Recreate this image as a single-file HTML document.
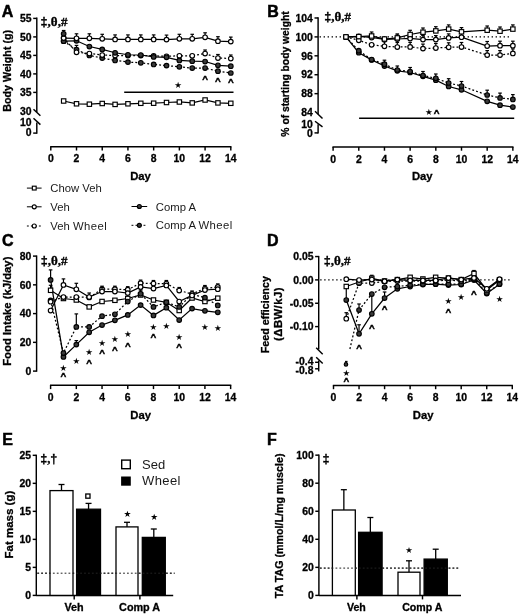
<!DOCTYPE html>
<html><head><meta charset="utf-8"><title>Figure</title>
<style>html,body{margin:0;padding:0;background:#fff;} svg{display:block;}</style></head>
<body><svg width="520" height="615" viewBox="0 0 520 615">
<rect x="0" y="0" width="520" height="615" fill="#fff"/>
<text x="1.80" y="16.95" font-family="'Liberation Sans', Arial, sans-serif" font-size="16" font-weight="bold" text-anchor="start" fill="#000" stroke="#000" stroke-width="0.5">A</text>
<text x="267.20" y="16.85" font-family="'Liberation Sans', Arial, sans-serif" font-size="16" font-weight="bold" text-anchor="start" fill="#000" stroke="#000" stroke-width="0.5">B</text>
<text x="1.90" y="246.15" font-family="'Liberation Sans', Arial, sans-serif" font-size="16" font-weight="bold" text-anchor="start" fill="#000" stroke="#000" stroke-width="0.5">C</text>
<text x="267.10" y="245.90" font-family="'Liberation Sans', Arial, sans-serif" font-size="16" font-weight="bold" text-anchor="start" fill="#000" stroke="#000" stroke-width="0.5">D</text>
<text x="2.30" y="444.70" font-family="'Liberation Sans', Arial, sans-serif" font-size="16" font-weight="bold" text-anchor="start" fill="#000" stroke="#000" stroke-width="0.5">E</text>
<text x="267.10" y="444.60" font-family="'Liberation Sans', Arial, sans-serif" font-size="16" font-weight="bold" text-anchor="start" fill="#000" stroke="#000" stroke-width="0.5">F</text>
<line x1="36.80" y1="17.45" x2="36.80" y2="112.00" stroke="#000" stroke-width="1.45"/>
<line x1="33.20" y1="18.40" x2="36.80" y2="18.40" stroke="#000" stroke-width="1.45"/>
<line x1="33.20" y1="36.90" x2="36.80" y2="36.90" stroke="#000" stroke-width="1.45"/>
<line x1="33.20" y1="55.40" x2="36.80" y2="55.40" stroke="#000" stroke-width="1.45"/>
<line x1="33.20" y1="73.90" x2="36.80" y2="73.90" stroke="#000" stroke-width="1.45"/>
<line x1="33.20" y1="92.40" x2="36.80" y2="92.40" stroke="#000" stroke-width="1.45"/>
<text x="31.60" y="22.14" font-family="'Liberation Sans', Arial, sans-serif" font-size="10.4" font-weight="bold" text-anchor="end" fill="#000" stroke="#000" stroke-width="0.3">55</text>
<text x="31.60" y="40.64" font-family="'Liberation Sans', Arial, sans-serif" font-size="10.4" font-weight="bold" text-anchor="end" fill="#000" stroke="#000" stroke-width="0.3">50</text>
<text x="31.60" y="59.14" font-family="'Liberation Sans', Arial, sans-serif" font-size="10.4" font-weight="bold" text-anchor="end" fill="#000" stroke="#000" stroke-width="0.3">45</text>
<text x="31.60" y="77.64" font-family="'Liberation Sans', Arial, sans-serif" font-size="10.4" font-weight="bold" text-anchor="end" fill="#000" stroke="#000" stroke-width="0.3">40</text>
<text x="31.60" y="96.14" font-family="'Liberation Sans', Arial, sans-serif" font-size="10.4" font-weight="bold" text-anchor="end" fill="#000" stroke="#000" stroke-width="0.3">35</text>
<text x="31.60" y="114.64" font-family="'Liberation Sans', Arial, sans-serif" font-size="10.4" font-weight="bold" text-anchor="end" fill="#000" stroke="#000" stroke-width="0.3">30</text>
<line x1="33.50" y1="109.20" x2="40.40" y2="115.80" stroke="#000" stroke-width="1.45"/>
<line x1="33.50" y1="118.30" x2="40.40" y2="124.60" stroke="#000" stroke-width="1.45"/>
<line x1="36.80" y1="122.50" x2="36.80" y2="133.75" stroke="#000" stroke-width="1.45"/>
<line x1="33.20" y1="133.10" x2="36.80" y2="133.10" stroke="#000" stroke-width="1.45"/>
<text x="31.60" y="125.64" font-family="'Liberation Sans', Arial, sans-serif" font-size="10.4" font-weight="bold" text-anchor="end" fill="#000" stroke="#000" stroke-width="0.3">10</text>
<text x="31.60" y="136.34" font-family="'Liberation Sans', Arial, sans-serif" font-size="10.4" font-weight="bold" text-anchor="end" fill="#000" stroke="#000" stroke-width="0.3">0</text>
<text transform="translate(6.80,70.80) rotate(-90)" x="0" y="3.85" font-family="'Liberation Sans', Arial, sans-serif" font-size="10.7" font-weight="bold" text-anchor="middle" stroke="#000" stroke-width="0.3">Body Weight (g)</text>
<line x1="50.15" y1="146.70" x2="231.45" y2="146.70" stroke="#000" stroke-width="1.45"/>
<line x1="50.80" y1="146.70" x2="50.80" y2="150.50" stroke="#000" stroke-width="1.45"/>
<line x1="76.51" y1="146.70" x2="76.51" y2="150.50" stroke="#000" stroke-width="1.45"/>
<line x1="102.23" y1="146.70" x2="102.23" y2="150.50" stroke="#000" stroke-width="1.45"/>
<line x1="127.94" y1="146.70" x2="127.94" y2="150.50" stroke="#000" stroke-width="1.45"/>
<line x1="153.66" y1="146.70" x2="153.66" y2="150.50" stroke="#000" stroke-width="1.45"/>
<line x1="179.37" y1="146.70" x2="179.37" y2="150.50" stroke="#000" stroke-width="1.45"/>
<line x1="205.08" y1="146.70" x2="205.08" y2="150.50" stroke="#000" stroke-width="1.45"/>
<line x1="230.80" y1="146.70" x2="230.80" y2="150.50" stroke="#000" stroke-width="1.45"/>
<text x="50.80" y="162.44" font-family="'Liberation Sans', Arial, sans-serif" font-size="10.4" font-weight="bold" text-anchor="middle" fill="#000" stroke="#000" stroke-width="0.3">0</text>
<text x="76.51" y="162.44" font-family="'Liberation Sans', Arial, sans-serif" font-size="10.4" font-weight="bold" text-anchor="middle" fill="#000" stroke="#000" stroke-width="0.3">2</text>
<text x="102.23" y="162.44" font-family="'Liberation Sans', Arial, sans-serif" font-size="10.4" font-weight="bold" text-anchor="middle" fill="#000" stroke="#000" stroke-width="0.3">4</text>
<text x="127.94" y="162.44" font-family="'Liberation Sans', Arial, sans-serif" font-size="10.4" font-weight="bold" text-anchor="middle" fill="#000" stroke="#000" stroke-width="0.3">6</text>
<text x="153.66" y="162.44" font-family="'Liberation Sans', Arial, sans-serif" font-size="10.4" font-weight="bold" text-anchor="middle" fill="#000" stroke="#000" stroke-width="0.3">8</text>
<text x="179.37" y="162.44" font-family="'Liberation Sans', Arial, sans-serif" font-size="10.4" font-weight="bold" text-anchor="middle" fill="#000" stroke="#000" stroke-width="0.3">10</text>
<text x="205.08" y="162.44" font-family="'Liberation Sans', Arial, sans-serif" font-size="10.4" font-weight="bold" text-anchor="middle" fill="#000" stroke="#000" stroke-width="0.3">12</text>
<text x="230.80" y="162.44" font-family="'Liberation Sans', Arial, sans-serif" font-size="10.4" font-weight="bold" text-anchor="middle" fill="#000" stroke="#000" stroke-width="0.3">14</text>
<text x="140.50" y="180.20" font-family="'Liberation Sans', Arial, sans-serif" font-size="11.3" font-weight="bold" text-anchor="middle" fill="#000" stroke="#000" stroke-width="0.3">Day</text>
<text x="40.6" y="26.3" font-family="'Liberation Serif', 'Times New Roman', serif" font-size="13" font-weight="bold" stroke="#000" stroke-width="0.35"><tspan font-family="'Liberation Sans', Arial, sans-serif" font-size="12.6">&#8225;</tspan>,&#952;,#</text>
<polyline points="63.66,101.00 76.51,103.80 89.37,104.20 102.23,103.50 115.08,104.40 127.94,103.80 140.80,103.30 153.66,103.20 166.51,102.50 179.37,102.00 192.23,102.90 205.08,100.00 217.94,102.90 230.80,103.30" fill="none" stroke="#000" stroke-width="1.25"/>
<polyline points="63.66,38.10 76.51,38.30 89.37,38.30 102.23,38.80 115.08,39.40 127.94,39.40 140.80,39.40 153.66,39.40 166.51,39.60 179.37,38.80 192.23,38.80 205.08,37.30 217.94,41.20 230.80,41.60" fill="none" stroke="#000" stroke-width="1.25"/>
<polyline points="63.66,41.20 76.51,40.80 89.37,46.50 102.23,49.40 115.08,52.75 127.94,54.75 140.80,55.00 153.66,56.90 166.51,57.30 179.37,60.40 192.23,61.20 205.08,61.50 217.94,65.30 230.80,66.20" fill="none" stroke="#000" stroke-width="1.25"/>
<polyline points="63.66,38.10 76.51,52.30 89.37,53.50 102.23,55.00 115.08,55.60 127.94,55.50 140.80,55.50 153.66,55.80 166.51,56.30 179.37,55.80 192.23,55.80 205.08,53.50 217.94,58.00 230.80,58.50" fill="none" stroke="#000" stroke-width="1.25" stroke-dasharray="1.9 2.1"/>
<polyline points="63.66,41.20 76.51,49.60 89.37,55.40 102.23,58.10 115.08,60.40 127.94,62.10 140.80,62.75 153.66,64.40 166.51,65.60 179.37,66.80 192.23,68.10 205.08,68.10 217.94,71.20 230.80,73.00" fill="none" stroke="#000" stroke-width="1.25" stroke-dasharray="1.9 2.1"/>
<rect x="61.47" y="98.81" width="4.37" height="4.37" fill="#fff" stroke="#000" stroke-width="1.15"/>
<rect x="74.33" y="101.61" width="4.37" height="4.37" fill="#fff" stroke="#000" stroke-width="1.15"/>
<rect x="87.19" y="102.02" width="4.37" height="4.37" fill="#fff" stroke="#000" stroke-width="1.15"/>
<rect x="100.04" y="101.31" width="4.37" height="4.37" fill="#fff" stroke="#000" stroke-width="1.15"/>
<rect x="112.90" y="102.22" width="4.37" height="4.37" fill="#fff" stroke="#000" stroke-width="1.15"/>
<rect x="125.76" y="101.61" width="4.37" height="4.37" fill="#fff" stroke="#000" stroke-width="1.15"/>
<rect x="138.61" y="101.11" width="4.37" height="4.37" fill="#fff" stroke="#000" stroke-width="1.15"/>
<rect x="151.47" y="101.02" width="4.37" height="4.37" fill="#fff" stroke="#000" stroke-width="1.15"/>
<rect x="164.33" y="100.31" width="4.37" height="4.37" fill="#fff" stroke="#000" stroke-width="1.15"/>
<rect x="177.19" y="99.81" width="4.37" height="4.37" fill="#fff" stroke="#000" stroke-width="1.15"/>
<rect x="190.04" y="100.72" width="4.37" height="4.37" fill="#fff" stroke="#000" stroke-width="1.15"/>
<rect x="202.90" y="97.81" width="4.37" height="4.37" fill="#fff" stroke="#000" stroke-width="1.15"/>
<rect x="215.76" y="100.72" width="4.37" height="4.37" fill="#fff" stroke="#000" stroke-width="1.15"/>
<rect x="228.61" y="101.11" width="4.37" height="4.37" fill="#fff" stroke="#000" stroke-width="1.15"/>
<circle cx="63.66" cy="41.20" r="2.3" fill="#3a3a3a" stroke="#000" stroke-width="1.15"/>
<line x1="76.51" y1="49.60" x2="76.51" y2="45.40" stroke="#000" stroke-width="1.2"/>
<line x1="74.71" y1="45.40" x2="78.31" y2="45.40" stroke="#000" stroke-width="1.2"/>
<circle cx="76.51" cy="49.60" r="2.3" fill="#3a3a3a" stroke="#000" stroke-width="1.15"/>
<circle cx="89.37" cy="55.40" r="2.3" fill="#3a3a3a" stroke="#000" stroke-width="1.15"/>
<circle cx="102.23" cy="58.10" r="2.3" fill="#3a3a3a" stroke="#000" stroke-width="1.15"/>
<circle cx="115.08" cy="60.40" r="2.3" fill="#3a3a3a" stroke="#000" stroke-width="1.15"/>
<circle cx="127.94" cy="62.10" r="2.3" fill="#3a3a3a" stroke="#000" stroke-width="1.15"/>
<circle cx="140.80" cy="62.75" r="2.3" fill="#3a3a3a" stroke="#000" stroke-width="1.15"/>
<circle cx="153.66" cy="64.40" r="2.3" fill="#3a3a3a" stroke="#000" stroke-width="1.15"/>
<circle cx="166.51" cy="65.60" r="2.3" fill="#3a3a3a" stroke="#000" stroke-width="1.15"/>
<circle cx="179.37" cy="66.80" r="2.3" fill="#3a3a3a" stroke="#000" stroke-width="1.15"/>
<circle cx="192.23" cy="68.10" r="2.3" fill="#3a3a3a" stroke="#000" stroke-width="1.15"/>
<circle cx="205.08" cy="68.10" r="2.3" fill="#3a3a3a" stroke="#000" stroke-width="1.15"/>
<circle cx="217.94" cy="71.20" r="2.3" fill="#3a3a3a" stroke="#000" stroke-width="1.15"/>
<circle cx="230.80" cy="73.00" r="2.3" fill="#3a3a3a" stroke="#000" stroke-width="1.15"/>
<circle cx="63.66" cy="38.10" r="2.3" fill="#fff" stroke="#000" stroke-width="1.15"/>
<circle cx="76.51" cy="52.30" r="2.3" fill="#fff" stroke="#000" stroke-width="1.15"/>
<circle cx="89.37" cy="53.50" r="2.3" fill="#fff" stroke="#000" stroke-width="1.15"/>
<circle cx="102.23" cy="55.00" r="2.3" fill="#fff" stroke="#000" stroke-width="1.15"/>
<circle cx="115.08" cy="55.60" r="2.3" fill="#fff" stroke="#000" stroke-width="1.15"/>
<circle cx="127.94" cy="55.50" r="2.3" fill="#fff" stroke="#000" stroke-width="1.15"/>
<circle cx="140.80" cy="55.50" r="2.3" fill="#fff" stroke="#000" stroke-width="1.15"/>
<circle cx="153.66" cy="55.80" r="2.3" fill="#fff" stroke="#000" stroke-width="1.15"/>
<circle cx="166.51" cy="56.30" r="2.3" fill="#fff" stroke="#000" stroke-width="1.15"/>
<circle cx="179.37" cy="55.80" r="2.3" fill="#fff" stroke="#000" stroke-width="1.15"/>
<circle cx="192.23" cy="55.80" r="2.3" fill="#fff" stroke="#000" stroke-width="1.15"/>
<line x1="205.08" y1="53.50" x2="205.08" y2="50.00" stroke="#000" stroke-width="1.2"/>
<line x1="203.28" y1="50.00" x2="206.88" y2="50.00" stroke="#000" stroke-width="1.2"/>
<circle cx="205.08" cy="53.50" r="2.3" fill="#fff" stroke="#000" stroke-width="1.15"/>
<line x1="217.94" y1="58.00" x2="217.94" y2="54.50" stroke="#000" stroke-width="1.2"/>
<line x1="216.14" y1="54.50" x2="219.74" y2="54.50" stroke="#000" stroke-width="1.2"/>
<circle cx="217.94" cy="58.00" r="2.3" fill="#fff" stroke="#000" stroke-width="1.15"/>
<line x1="230.80" y1="58.50" x2="230.80" y2="55.00" stroke="#000" stroke-width="1.2"/>
<line x1="229.00" y1="55.00" x2="232.60" y2="55.00" stroke="#000" stroke-width="1.2"/>
<circle cx="230.80" cy="58.50" r="2.3" fill="#fff" stroke="#000" stroke-width="1.15"/>
<circle cx="63.66" cy="41.20" r="2.3" fill="#3a3a3a" stroke="#000" stroke-width="1.15"/>
<circle cx="76.51" cy="40.80" r="2.3" fill="#3a3a3a" stroke="#000" stroke-width="1.15"/>
<circle cx="89.37" cy="46.50" r="2.3" fill="#3a3a3a" stroke="#000" stroke-width="1.15"/>
<circle cx="102.23" cy="49.40" r="2.3" fill="#3a3a3a" stroke="#000" stroke-width="1.15"/>
<circle cx="115.08" cy="52.75" r="2.3" fill="#3a3a3a" stroke="#000" stroke-width="1.15"/>
<circle cx="127.94" cy="54.75" r="2.3" fill="#3a3a3a" stroke="#000" stroke-width="1.15"/>
<circle cx="140.80" cy="55.00" r="2.3" fill="#3a3a3a" stroke="#000" stroke-width="1.15"/>
<circle cx="153.66" cy="56.90" r="2.3" fill="#3a3a3a" stroke="#000" stroke-width="1.15"/>
<circle cx="166.51" cy="57.30" r="2.3" fill="#3a3a3a" stroke="#000" stroke-width="1.15"/>
<circle cx="179.37" cy="60.40" r="2.3" fill="#3a3a3a" stroke="#000" stroke-width="1.15"/>
<circle cx="192.23" cy="61.20" r="2.3" fill="#3a3a3a" stroke="#000" stroke-width="1.15"/>
<circle cx="205.08" cy="61.50" r="2.3" fill="#3a3a3a" stroke="#000" stroke-width="1.15"/>
<circle cx="217.94" cy="65.30" r="2.3" fill="#3a3a3a" stroke="#000" stroke-width="1.15"/>
<circle cx="230.80" cy="66.20" r="2.3" fill="#3a3a3a" stroke="#000" stroke-width="1.15"/>
<line x1="63.66" y1="38.10" x2="63.66" y2="33.60" stroke="#000" stroke-width="1.2"/>
<line x1="61.86" y1="33.60" x2="65.46" y2="33.60" stroke="#000" stroke-width="1.2"/>
<circle cx="63.66" cy="38.10" r="2.3" fill="#fff" stroke="#000" stroke-width="1.15"/>
<line x1="76.51" y1="38.30" x2="76.51" y2="33.80" stroke="#000" stroke-width="1.2"/>
<line x1="74.71" y1="33.80" x2="78.31" y2="33.80" stroke="#000" stroke-width="1.2"/>
<circle cx="76.51" cy="38.30" r="2.3" fill="#fff" stroke="#000" stroke-width="1.15"/>
<line x1="89.37" y1="38.30" x2="89.37" y2="33.80" stroke="#000" stroke-width="1.2"/>
<line x1="87.57" y1="33.80" x2="91.17" y2="33.80" stroke="#000" stroke-width="1.2"/>
<circle cx="89.37" cy="38.30" r="2.3" fill="#fff" stroke="#000" stroke-width="1.15"/>
<line x1="102.23" y1="38.80" x2="102.23" y2="34.30" stroke="#000" stroke-width="1.2"/>
<line x1="100.43" y1="34.30" x2="104.03" y2="34.30" stroke="#000" stroke-width="1.2"/>
<circle cx="102.23" cy="38.80" r="2.3" fill="#fff" stroke="#000" stroke-width="1.15"/>
<line x1="115.08" y1="39.40" x2="115.08" y2="34.90" stroke="#000" stroke-width="1.2"/>
<line x1="113.28" y1="34.90" x2="116.88" y2="34.90" stroke="#000" stroke-width="1.2"/>
<circle cx="115.08" cy="39.40" r="2.3" fill="#fff" stroke="#000" stroke-width="1.15"/>
<line x1="127.94" y1="39.40" x2="127.94" y2="34.90" stroke="#000" stroke-width="1.2"/>
<line x1="126.14" y1="34.90" x2="129.74" y2="34.90" stroke="#000" stroke-width="1.2"/>
<circle cx="127.94" cy="39.40" r="2.3" fill="#fff" stroke="#000" stroke-width="1.15"/>
<line x1="140.80" y1="39.40" x2="140.80" y2="34.90" stroke="#000" stroke-width="1.2"/>
<line x1="139.00" y1="34.90" x2="142.60" y2="34.90" stroke="#000" stroke-width="1.2"/>
<circle cx="140.80" cy="39.40" r="2.3" fill="#fff" stroke="#000" stroke-width="1.15"/>
<line x1="153.66" y1="39.40" x2="153.66" y2="34.90" stroke="#000" stroke-width="1.2"/>
<line x1="151.86" y1="34.90" x2="155.46" y2="34.90" stroke="#000" stroke-width="1.2"/>
<circle cx="153.66" cy="39.40" r="2.3" fill="#fff" stroke="#000" stroke-width="1.15"/>
<line x1="166.51" y1="39.60" x2="166.51" y2="35.10" stroke="#000" stroke-width="1.2"/>
<line x1="164.71" y1="35.10" x2="168.31" y2="35.10" stroke="#000" stroke-width="1.2"/>
<circle cx="166.51" cy="39.60" r="2.3" fill="#fff" stroke="#000" stroke-width="1.15"/>
<line x1="179.37" y1="38.80" x2="179.37" y2="34.30" stroke="#000" stroke-width="1.2"/>
<line x1="177.57" y1="34.30" x2="181.17" y2="34.30" stroke="#000" stroke-width="1.2"/>
<circle cx="179.37" cy="38.80" r="2.3" fill="#fff" stroke="#000" stroke-width="1.15"/>
<line x1="192.23" y1="38.80" x2="192.23" y2="34.30" stroke="#000" stroke-width="1.2"/>
<line x1="190.43" y1="34.30" x2="194.03" y2="34.30" stroke="#000" stroke-width="1.2"/>
<circle cx="192.23" cy="38.80" r="2.3" fill="#fff" stroke="#000" stroke-width="1.15"/>
<line x1="205.08" y1="37.30" x2="205.08" y2="32.80" stroke="#000" stroke-width="1.2"/>
<line x1="203.28" y1="32.80" x2="206.88" y2="32.80" stroke="#000" stroke-width="1.2"/>
<circle cx="205.08" cy="37.30" r="2.3" fill="#fff" stroke="#000" stroke-width="1.15"/>
<line x1="217.94" y1="41.20" x2="217.94" y2="36.70" stroke="#000" stroke-width="1.2"/>
<line x1="216.14" y1="36.70" x2="219.74" y2="36.70" stroke="#000" stroke-width="1.2"/>
<circle cx="217.94" cy="41.20" r="2.3" fill="#fff" stroke="#000" stroke-width="1.15"/>
<line x1="230.80" y1="41.60" x2="230.80" y2="37.10" stroke="#000" stroke-width="1.2"/>
<line x1="229.00" y1="37.10" x2="232.60" y2="37.10" stroke="#000" stroke-width="1.2"/>
<circle cx="230.80" cy="41.60" r="2.3" fill="#fff" stroke="#000" stroke-width="1.15"/>
<line x1="63.66" y1="33.80" x2="63.66" y2="30.50" stroke="#000" stroke-width="1.2"/>
<line x1="61.86" y1="30.50" x2="65.46" y2="30.50" stroke="#000" stroke-width="1.2"/>
<circle cx="63.66" cy="33.80" r="2.3" fill="#3a3a3a" stroke="#000" stroke-width="1.15"/>
<line x1="124.20" y1="92.20" x2="233.50" y2="92.20" stroke="#000" stroke-width="1.4"/>
<text x="178.20" y="88.32" font-family="DejaVu Sans, sans-serif" font-size="8.6" text-anchor="middle">&#9733;</text>
<text x="205.08" y="81.95" font-family="'Liberation Sans', Arial, sans-serif" font-size="9.8" font-weight="bold" text-anchor="middle" stroke="#000" stroke-width="0.45">^</text>
<text x="217.94" y="84.16" font-family="'Liberation Sans', Arial, sans-serif" font-size="9.8" font-weight="bold" text-anchor="middle" stroke="#000" stroke-width="0.45">^</text>
<text x="230.80" y="84.66" font-family="'Liberation Sans', Arial, sans-serif" font-size="9.8" font-weight="bold" text-anchor="middle" stroke="#000" stroke-width="0.45">^</text>
<line x1="318.10" y1="17.33" x2="318.10" y2="114.20" stroke="#000" stroke-width="1.45"/>
<line x1="314.50" y1="17.98" x2="318.10" y2="17.98" stroke="#000" stroke-width="1.45"/>
<line x1="314.50" y1="36.90" x2="318.10" y2="36.90" stroke="#000" stroke-width="1.45"/>
<line x1="314.50" y1="55.82" x2="318.10" y2="55.82" stroke="#000" stroke-width="1.45"/>
<line x1="314.50" y1="74.74" x2="318.10" y2="74.74" stroke="#000" stroke-width="1.45"/>
<line x1="314.50" y1="93.66" x2="318.10" y2="93.66" stroke="#000" stroke-width="1.45"/>
<text x="312.90" y="21.72" font-family="'Liberation Sans', Arial, sans-serif" font-size="10.4" font-weight="bold" text-anchor="end" fill="#000" stroke="#000" stroke-width="0.3">104</text>
<text x="312.90" y="40.64" font-family="'Liberation Sans', Arial, sans-serif" font-size="10.4" font-weight="bold" text-anchor="end" fill="#000" stroke="#000" stroke-width="0.3">100</text>
<text x="312.90" y="59.56" font-family="'Liberation Sans', Arial, sans-serif" font-size="10.4" font-weight="bold" text-anchor="end" fill="#000" stroke="#000" stroke-width="0.3">96</text>
<text x="312.90" y="78.48" font-family="'Liberation Sans', Arial, sans-serif" font-size="10.4" font-weight="bold" text-anchor="end" fill="#000" stroke="#000" stroke-width="0.3">92</text>
<text x="312.90" y="97.40" font-family="'Liberation Sans', Arial, sans-serif" font-size="10.4" font-weight="bold" text-anchor="end" fill="#000" stroke="#000" stroke-width="0.3">88</text>
<text x="312.90" y="116.32" font-family="'Liberation Sans', Arial, sans-serif" font-size="10.4" font-weight="bold" text-anchor="end" fill="#000" stroke="#000" stroke-width="0.3">84</text>
<line x1="315.00" y1="111.25" x2="322.50" y2="118.50" stroke="#000" stroke-width="1.45"/>
<line x1="315.00" y1="121.25" x2="322.50" y2="126.90" stroke="#000" stroke-width="1.45"/>
<line x1="318.10" y1="124.20" x2="318.10" y2="133.55" stroke="#000" stroke-width="1.45"/>
<line x1="314.50" y1="132.90" x2="318.10" y2="132.90" stroke="#000" stroke-width="1.45"/>
<text x="312.90" y="128.14" font-family="'Liberation Sans', Arial, sans-serif" font-size="10.4" font-weight="bold" text-anchor="end" fill="#000" stroke="#000" stroke-width="0.3">10</text>
<text x="312.90" y="137.04" font-family="'Liberation Sans', Arial, sans-serif" font-size="10.4" font-weight="bold" text-anchor="end" fill="#000" stroke="#000" stroke-width="0.3">0</text>
<text transform="translate(285.60,74.00) rotate(-90)" x="0" y="3.71" font-family="'Liberation Sans', Arial, sans-serif" font-size="10.3" font-weight="bold" text-anchor="middle" stroke="#000" stroke-width="0.3">% of starting body weight</text>
<line x1="332.45" y1="146.90" x2="513.51" y2="146.90" stroke="#000" stroke-width="1.45"/>
<line x1="333.10" y1="146.90" x2="333.10" y2="150.70" stroke="#000" stroke-width="1.45"/>
<line x1="358.78" y1="146.90" x2="358.78" y2="150.70" stroke="#000" stroke-width="1.45"/>
<line x1="384.46" y1="146.90" x2="384.46" y2="150.70" stroke="#000" stroke-width="1.45"/>
<line x1="410.14" y1="146.90" x2="410.14" y2="150.70" stroke="#000" stroke-width="1.45"/>
<line x1="435.82" y1="146.90" x2="435.82" y2="150.70" stroke="#000" stroke-width="1.45"/>
<line x1="461.50" y1="146.90" x2="461.50" y2="150.70" stroke="#000" stroke-width="1.45"/>
<line x1="487.18" y1="146.90" x2="487.18" y2="150.70" stroke="#000" stroke-width="1.45"/>
<line x1="512.86" y1="146.90" x2="512.86" y2="150.70" stroke="#000" stroke-width="1.45"/>
<text x="333.10" y="162.64" font-family="'Liberation Sans', Arial, sans-serif" font-size="10.4" font-weight="bold" text-anchor="middle" fill="#000" stroke="#000" stroke-width="0.3">0</text>
<text x="358.78" y="162.64" font-family="'Liberation Sans', Arial, sans-serif" font-size="10.4" font-weight="bold" text-anchor="middle" fill="#000" stroke="#000" stroke-width="0.3">2</text>
<text x="384.46" y="162.64" font-family="'Liberation Sans', Arial, sans-serif" font-size="10.4" font-weight="bold" text-anchor="middle" fill="#000" stroke="#000" stroke-width="0.3">4</text>
<text x="410.14" y="162.64" font-family="'Liberation Sans', Arial, sans-serif" font-size="10.4" font-weight="bold" text-anchor="middle" fill="#000" stroke="#000" stroke-width="0.3">6</text>
<text x="435.82" y="162.64" font-family="'Liberation Sans', Arial, sans-serif" font-size="10.4" font-weight="bold" text-anchor="middle" fill="#000" stroke="#000" stroke-width="0.3">8</text>
<text x="461.50" y="162.64" font-family="'Liberation Sans', Arial, sans-serif" font-size="10.4" font-weight="bold" text-anchor="middle" fill="#000" stroke="#000" stroke-width="0.3">10</text>
<text x="487.18" y="162.64" font-family="'Liberation Sans', Arial, sans-serif" font-size="10.4" font-weight="bold" text-anchor="middle" fill="#000" stroke="#000" stroke-width="0.3">12</text>
<text x="512.86" y="162.64" font-family="'Liberation Sans', Arial, sans-serif" font-size="10.4" font-weight="bold" text-anchor="middle" fill="#000" stroke="#000" stroke-width="0.3">14</text>
<text x="422.30" y="180.20" font-family="'Liberation Sans', Arial, sans-serif" font-size="11.3" font-weight="bold" text-anchor="middle" fill="#000" stroke="#000" stroke-width="0.3">Day</text>
<text x="324.2" y="20.9" font-family="'Liberation Serif', 'Times New Roman', serif" font-size="13" font-weight="bold" stroke="#000" stroke-width="0.35"><tspan font-family="'Liberation Sans', Arial, sans-serif" font-size="12.6">&#8225;</tspan>,&#952;,#</text>
<line x1="319.60" y1="36.90" x2="510.50" y2="36.90" stroke="#000" stroke-width="1.2" stroke-dasharray="1.4 2.6"/>
<polyline points="345.94,36.90 358.78,52.70 371.62,59.90 384.46,66.00 397.30,70.80 410.14,72.50 422.98,76.30 435.82,80.20 448.66,86.50 461.50,89.80 487.18,101.30 500.02,105.20 512.86,107.10" fill="none" stroke="#000" stroke-width="1.25"/>
<polyline points="345.94,36.90 358.78,50.70 371.62,59.50 384.46,64.20 397.30,70.00 410.14,71.50 422.98,75.50 435.82,78.30 448.66,83.00 461.50,86.00 487.18,95.00 500.02,97.90 512.86,99.40" fill="none" stroke="#000" stroke-width="1.25" stroke-dasharray="1.9 2.1"/>
<polyline points="345.94,36.90 358.78,40.30 371.62,44.80 384.46,46.30 397.30,47.00 410.14,46.90 422.98,48.60 435.82,48.00 448.66,47.30 461.50,47.00 487.18,55.10 500.02,55.10 512.86,53.40" fill="none" stroke="#000" stroke-width="1.25" stroke-dasharray="1.9 2.1"/>
<polyline points="345.94,36.90 358.78,36.30 371.62,37.50 384.46,39.40 397.30,39.00 410.14,38.50 422.98,39.60 435.82,39.60 448.66,37.90 461.50,37.20 487.18,46.00 500.02,45.70 512.86,45.70" fill="none" stroke="#000" stroke-width="1.25"/>
<polyline points="345.94,36.90 358.78,36.60 371.62,36.00 384.46,39.00 397.30,37.90 410.14,34.50 422.98,32.20 435.82,30.90 448.66,29.10 461.50,31.80 487.18,30.20 500.02,31.20 512.86,29.10" fill="none" stroke="#000" stroke-width="1.25"/>
<circle cx="345.94" cy="36.90" r="2.3" fill="#3a3a3a" stroke="#000" stroke-width="1.15"/>
<circle cx="358.78" cy="52.70" r="2.3" fill="#3a3a3a" stroke="#000" stroke-width="1.15"/>
<circle cx="371.62" cy="59.90" r="2.3" fill="#3a3a3a" stroke="#000" stroke-width="1.15"/>
<circle cx="384.46" cy="66.00" r="2.3" fill="#3a3a3a" stroke="#000" stroke-width="1.15"/>
<circle cx="397.30" cy="70.80" r="2.3" fill="#3a3a3a" stroke="#000" stroke-width="1.15"/>
<circle cx="410.14" cy="72.50" r="2.3" fill="#3a3a3a" stroke="#000" stroke-width="1.15"/>
<circle cx="422.98" cy="76.30" r="2.3" fill="#3a3a3a" stroke="#000" stroke-width="1.15"/>
<circle cx="435.82" cy="80.20" r="2.3" fill="#3a3a3a" stroke="#000" stroke-width="1.15"/>
<circle cx="448.66" cy="86.50" r="2.3" fill="#3a3a3a" stroke="#000" stroke-width="1.15"/>
<circle cx="461.50" cy="89.80" r="2.3" fill="#3a3a3a" stroke="#000" stroke-width="1.15"/>
<circle cx="487.18" cy="101.30" r="2.3" fill="#3a3a3a" stroke="#000" stroke-width="1.15"/>
<circle cx="500.02" cy="105.20" r="2.3" fill="#3a3a3a" stroke="#000" stroke-width="1.15"/>
<circle cx="512.86" cy="107.10" r="2.3" fill="#3a3a3a" stroke="#000" stroke-width="1.15"/>
<circle cx="345.94" cy="36.90" r="2.3" fill="#3a3a3a" stroke="#000" stroke-width="1.15"/>
<circle cx="358.78" cy="50.70" r="2.3" fill="#3a3a3a" stroke="#000" stroke-width="1.15"/>
<circle cx="371.62" cy="59.50" r="2.3" fill="#3a3a3a" stroke="#000" stroke-width="1.15"/>
<line x1="384.46" y1="64.20" x2="384.46" y2="60.20" stroke="#000" stroke-width="1.2"/>
<line x1="382.66" y1="60.20" x2="386.26" y2="60.20" stroke="#000" stroke-width="1.2"/>
<circle cx="384.46" cy="64.20" r="2.3" fill="#3a3a3a" stroke="#000" stroke-width="1.15"/>
<line x1="397.30" y1="70.00" x2="397.30" y2="66.00" stroke="#000" stroke-width="1.2"/>
<line x1="395.50" y1="66.00" x2="399.10" y2="66.00" stroke="#000" stroke-width="1.2"/>
<circle cx="397.30" cy="70.00" r="2.3" fill="#3a3a3a" stroke="#000" stroke-width="1.15"/>
<line x1="410.14" y1="71.50" x2="410.14" y2="67.50" stroke="#000" stroke-width="1.2"/>
<line x1="408.34" y1="67.50" x2="411.94" y2="67.50" stroke="#000" stroke-width="1.2"/>
<circle cx="410.14" cy="71.50" r="2.3" fill="#3a3a3a" stroke="#000" stroke-width="1.15"/>
<line x1="422.98" y1="75.50" x2="422.98" y2="71.50" stroke="#000" stroke-width="1.2"/>
<line x1="421.18" y1="71.50" x2="424.78" y2="71.50" stroke="#000" stroke-width="1.2"/>
<circle cx="422.98" cy="75.50" r="2.3" fill="#3a3a3a" stroke="#000" stroke-width="1.15"/>
<line x1="435.82" y1="78.30" x2="435.82" y2="74.00" stroke="#000" stroke-width="1.2"/>
<line x1="434.02" y1="74.00" x2="437.62" y2="74.00" stroke="#000" stroke-width="1.2"/>
<circle cx="435.82" cy="78.30" r="2.3" fill="#3a3a3a" stroke="#000" stroke-width="1.15"/>
<line x1="448.66" y1="83.00" x2="448.66" y2="78.70" stroke="#000" stroke-width="1.2"/>
<line x1="446.86" y1="78.70" x2="450.46" y2="78.70" stroke="#000" stroke-width="1.2"/>
<circle cx="448.66" cy="83.00" r="2.3" fill="#3a3a3a" stroke="#000" stroke-width="1.15"/>
<line x1="461.50" y1="86.00" x2="461.50" y2="81.50" stroke="#000" stroke-width="1.2"/>
<line x1="459.70" y1="81.50" x2="463.30" y2="81.50" stroke="#000" stroke-width="1.2"/>
<circle cx="461.50" cy="86.00" r="2.3" fill="#3a3a3a" stroke="#000" stroke-width="1.15"/>
<line x1="487.18" y1="95.00" x2="487.18" y2="90.20" stroke="#000" stroke-width="1.2"/>
<line x1="485.38" y1="90.20" x2="488.98" y2="90.20" stroke="#000" stroke-width="1.2"/>
<circle cx="487.18" cy="95.00" r="2.3" fill="#3a3a3a" stroke="#000" stroke-width="1.15"/>
<line x1="500.02" y1="97.90" x2="500.02" y2="93.10" stroke="#000" stroke-width="1.2"/>
<line x1="498.22" y1="93.10" x2="501.82" y2="93.10" stroke="#000" stroke-width="1.2"/>
<circle cx="500.02" cy="97.90" r="2.3" fill="#3a3a3a" stroke="#000" stroke-width="1.15"/>
<line x1="512.86" y1="99.40" x2="512.86" y2="94.60" stroke="#000" stroke-width="1.2"/>
<line x1="511.06" y1="94.60" x2="514.66" y2="94.60" stroke="#000" stroke-width="1.2"/>
<circle cx="512.86" cy="99.40" r="2.3" fill="#3a3a3a" stroke="#000" stroke-width="1.15"/>
<circle cx="345.94" cy="36.90" r="2.3" fill="#fff" stroke="#000" stroke-width="1.15"/>
<circle cx="358.78" cy="40.30" r="2.3" fill="#fff" stroke="#000" stroke-width="1.15"/>
<circle cx="371.62" cy="44.80" r="2.3" fill="#fff" stroke="#000" stroke-width="1.15"/>
<line x1="384.46" y1="46.30" x2="384.46" y2="41.80" stroke="#000" stroke-width="1.2"/>
<line x1="382.66" y1="41.80" x2="386.26" y2="41.80" stroke="#000" stroke-width="1.2"/>
<circle cx="384.46" cy="46.30" r="2.3" fill="#fff" stroke="#000" stroke-width="1.15"/>
<line x1="397.30" y1="47.00" x2="397.30" y2="42.50" stroke="#000" stroke-width="1.2"/>
<line x1="395.50" y1="42.50" x2="399.10" y2="42.50" stroke="#000" stroke-width="1.2"/>
<circle cx="397.30" cy="47.00" r="2.3" fill="#fff" stroke="#000" stroke-width="1.15"/>
<line x1="410.14" y1="46.90" x2="410.14" y2="42.40" stroke="#000" stroke-width="1.2"/>
<line x1="408.34" y1="42.40" x2="411.94" y2="42.40" stroke="#000" stroke-width="1.2"/>
<circle cx="410.14" cy="46.90" r="2.3" fill="#fff" stroke="#000" stroke-width="1.15"/>
<line x1="422.98" y1="48.60" x2="422.98" y2="44.10" stroke="#000" stroke-width="1.2"/>
<line x1="421.18" y1="44.10" x2="424.78" y2="44.10" stroke="#000" stroke-width="1.2"/>
<circle cx="422.98" cy="48.60" r="2.3" fill="#fff" stroke="#000" stroke-width="1.15"/>
<line x1="435.82" y1="48.00" x2="435.82" y2="43.50" stroke="#000" stroke-width="1.2"/>
<line x1="434.02" y1="43.50" x2="437.62" y2="43.50" stroke="#000" stroke-width="1.2"/>
<circle cx="435.82" cy="48.00" r="2.3" fill="#fff" stroke="#000" stroke-width="1.15"/>
<line x1="448.66" y1="47.30" x2="448.66" y2="42.80" stroke="#000" stroke-width="1.2"/>
<line x1="446.86" y1="42.80" x2="450.46" y2="42.80" stroke="#000" stroke-width="1.2"/>
<circle cx="448.66" cy="47.30" r="2.3" fill="#fff" stroke="#000" stroke-width="1.15"/>
<line x1="461.50" y1="47.00" x2="461.50" y2="42.50" stroke="#000" stroke-width="1.2"/>
<line x1="459.70" y1="42.50" x2="463.30" y2="42.50" stroke="#000" stroke-width="1.2"/>
<circle cx="461.50" cy="47.00" r="2.3" fill="#fff" stroke="#000" stroke-width="1.15"/>
<line x1="487.18" y1="55.10" x2="487.18" y2="50.60" stroke="#000" stroke-width="1.2"/>
<line x1="485.38" y1="50.60" x2="488.98" y2="50.60" stroke="#000" stroke-width="1.2"/>
<circle cx="487.18" cy="55.10" r="2.3" fill="#fff" stroke="#000" stroke-width="1.15"/>
<line x1="500.02" y1="55.10" x2="500.02" y2="50.60" stroke="#000" stroke-width="1.2"/>
<line x1="498.22" y1="50.60" x2="501.82" y2="50.60" stroke="#000" stroke-width="1.2"/>
<circle cx="500.02" cy="55.10" r="2.3" fill="#fff" stroke="#000" stroke-width="1.15"/>
<line x1="512.86" y1="53.40" x2="512.86" y2="48.90" stroke="#000" stroke-width="1.2"/>
<line x1="511.06" y1="48.90" x2="514.66" y2="48.90" stroke="#000" stroke-width="1.2"/>
<circle cx="512.86" cy="53.40" r="2.3" fill="#fff" stroke="#000" stroke-width="1.15"/>
<circle cx="345.94" cy="36.90" r="2.3" fill="#fff" stroke="#000" stroke-width="1.15"/>
<circle cx="358.78" cy="36.30" r="2.3" fill="#fff" stroke="#000" stroke-width="1.15"/>
<circle cx="371.62" cy="37.50" r="2.3" fill="#fff" stroke="#000" stroke-width="1.15"/>
<circle cx="384.46" cy="39.40" r="2.3" fill="#fff" stroke="#000" stroke-width="1.15"/>
<line x1="397.30" y1="39.00" x2="397.30" y2="35.00" stroke="#000" stroke-width="1.2"/>
<line x1="395.50" y1="35.00" x2="399.10" y2="35.00" stroke="#000" stroke-width="1.2"/>
<circle cx="397.30" cy="39.00" r="2.3" fill="#fff" stroke="#000" stroke-width="1.15"/>
<line x1="410.14" y1="38.50" x2="410.14" y2="34.50" stroke="#000" stroke-width="1.2"/>
<line x1="408.34" y1="34.50" x2="411.94" y2="34.50" stroke="#000" stroke-width="1.2"/>
<circle cx="410.14" cy="38.50" r="2.3" fill="#fff" stroke="#000" stroke-width="1.15"/>
<line x1="422.98" y1="39.60" x2="422.98" y2="35.60" stroke="#000" stroke-width="1.2"/>
<line x1="421.18" y1="35.60" x2="424.78" y2="35.60" stroke="#000" stroke-width="1.2"/>
<circle cx="422.98" cy="39.60" r="2.3" fill="#fff" stroke="#000" stroke-width="1.15"/>
<line x1="435.82" y1="39.60" x2="435.82" y2="35.60" stroke="#000" stroke-width="1.2"/>
<line x1="434.02" y1="35.60" x2="437.62" y2="35.60" stroke="#000" stroke-width="1.2"/>
<circle cx="435.82" cy="39.60" r="2.3" fill="#fff" stroke="#000" stroke-width="1.15"/>
<line x1="448.66" y1="37.90" x2="448.66" y2="33.90" stroke="#000" stroke-width="1.2"/>
<line x1="446.86" y1="33.90" x2="450.46" y2="33.90" stroke="#000" stroke-width="1.2"/>
<circle cx="448.66" cy="37.90" r="2.3" fill="#fff" stroke="#000" stroke-width="1.15"/>
<line x1="461.50" y1="37.20" x2="461.50" y2="33.20" stroke="#000" stroke-width="1.2"/>
<line x1="459.70" y1="33.20" x2="463.30" y2="33.20" stroke="#000" stroke-width="1.2"/>
<circle cx="461.50" cy="37.20" r="2.3" fill="#fff" stroke="#000" stroke-width="1.15"/>
<line x1="487.18" y1="46.00" x2="487.18" y2="41.50" stroke="#000" stroke-width="1.2"/>
<line x1="485.38" y1="41.50" x2="488.98" y2="41.50" stroke="#000" stroke-width="1.2"/>
<circle cx="487.18" cy="46.00" r="2.3" fill="#fff" stroke="#000" stroke-width="1.15"/>
<line x1="500.02" y1="45.70" x2="500.02" y2="41.20" stroke="#000" stroke-width="1.2"/>
<line x1="498.22" y1="41.20" x2="501.82" y2="41.20" stroke="#000" stroke-width="1.2"/>
<circle cx="500.02" cy="45.70" r="2.3" fill="#fff" stroke="#000" stroke-width="1.15"/>
<line x1="512.86" y1="45.70" x2="512.86" y2="41.20" stroke="#000" stroke-width="1.2"/>
<line x1="511.06" y1="41.20" x2="514.66" y2="41.20" stroke="#000" stroke-width="1.2"/>
<circle cx="512.86" cy="45.70" r="2.3" fill="#fff" stroke="#000" stroke-width="1.15"/>
<rect x="343.75" y="34.71" width="4.37" height="4.37" fill="#fff" stroke="#000" stroke-width="1.15"/>
<rect x="356.60" y="34.41" width="4.37" height="4.37" fill="#fff" stroke="#000" stroke-width="1.15"/>
<line x1="371.62" y1="36.00" x2="371.62" y2="32.00" stroke="#000" stroke-width="1.2"/>
<line x1="369.82" y1="32.00" x2="373.42" y2="32.00" stroke="#000" stroke-width="1.2"/>
<rect x="369.44" y="33.81" width="4.37" height="4.37" fill="#fff" stroke="#000" stroke-width="1.15"/>
<rect x="382.28" y="36.81" width="4.37" height="4.37" fill="#fff" stroke="#000" stroke-width="1.15"/>
<line x1="397.30" y1="37.90" x2="397.30" y2="33.90" stroke="#000" stroke-width="1.2"/>
<line x1="395.50" y1="33.90" x2="399.10" y2="33.90" stroke="#000" stroke-width="1.2"/>
<rect x="395.12" y="35.71" width="4.37" height="4.37" fill="#fff" stroke="#000" stroke-width="1.15"/>
<line x1="410.14" y1="34.50" x2="410.14" y2="30.30" stroke="#000" stroke-width="1.2"/>
<line x1="408.34" y1="30.30" x2="411.94" y2="30.30" stroke="#000" stroke-width="1.2"/>
<rect x="407.95" y="32.31" width="4.37" height="4.37" fill="#fff" stroke="#000" stroke-width="1.15"/>
<line x1="422.98" y1="32.20" x2="422.98" y2="28.00" stroke="#000" stroke-width="1.2"/>
<line x1="421.18" y1="28.00" x2="424.78" y2="28.00" stroke="#000" stroke-width="1.2"/>
<rect x="420.80" y="30.02" width="4.37" height="4.37" fill="#fff" stroke="#000" stroke-width="1.15"/>
<line x1="435.82" y1="30.90" x2="435.82" y2="26.70" stroke="#000" stroke-width="1.2"/>
<line x1="434.02" y1="26.70" x2="437.62" y2="26.70" stroke="#000" stroke-width="1.2"/>
<rect x="433.64" y="28.71" width="4.37" height="4.37" fill="#fff" stroke="#000" stroke-width="1.15"/>
<line x1="448.66" y1="29.10" x2="448.66" y2="24.90" stroke="#000" stroke-width="1.2"/>
<line x1="446.86" y1="24.90" x2="450.46" y2="24.90" stroke="#000" stroke-width="1.2"/>
<rect x="446.48" y="26.92" width="4.37" height="4.37" fill="#fff" stroke="#000" stroke-width="1.15"/>
<line x1="461.50" y1="31.80" x2="461.50" y2="27.60" stroke="#000" stroke-width="1.2"/>
<line x1="459.70" y1="27.60" x2="463.30" y2="27.60" stroke="#000" stroke-width="1.2"/>
<rect x="459.31" y="29.62" width="4.37" height="4.37" fill="#fff" stroke="#000" stroke-width="1.15"/>
<line x1="487.18" y1="30.20" x2="487.18" y2="26.00" stroke="#000" stroke-width="1.2"/>
<line x1="485.38" y1="26.00" x2="488.98" y2="26.00" stroke="#000" stroke-width="1.2"/>
<rect x="485.00" y="28.02" width="4.37" height="4.37" fill="#fff" stroke="#000" stroke-width="1.15"/>
<line x1="500.02" y1="31.20" x2="500.02" y2="27.00" stroke="#000" stroke-width="1.2"/>
<line x1="498.22" y1="27.00" x2="501.82" y2="27.00" stroke="#000" stroke-width="1.2"/>
<rect x="497.83" y="29.02" width="4.37" height="4.37" fill="#fff" stroke="#000" stroke-width="1.15"/>
<line x1="512.86" y1="29.10" x2="512.86" y2="24.90" stroke="#000" stroke-width="1.2"/>
<line x1="511.06" y1="24.90" x2="514.66" y2="24.90" stroke="#000" stroke-width="1.2"/>
<rect x="510.68" y="26.92" width="4.37" height="4.37" fill="#fff" stroke="#000" stroke-width="1.15"/>
<line x1="359.10" y1="118.20" x2="514.20" y2="118.20" stroke="#000" stroke-width="1.5"/>
<text x="428.80" y="115.32" font-family="DejaVu Sans, sans-serif" font-size="8.6" text-anchor="middle">&#9733;</text>
<text x="436.60" y="116.25" font-family="'Liberation Sans', Arial, sans-serif" font-size="9.8" font-weight="bold" text-anchor="middle" stroke="#000" stroke-width="0.45">^</text>
<line x1="26.90" y1="188.10" x2="41.60" y2="188.10" stroke="#000" stroke-width="1.0"/>
<rect x="32.35" y="186.20" width="3.80" height="3.80" fill="#fff" stroke="#000" stroke-width="1.15"/>
<text x="50.30" y="192.17" font-family="'Liberation Sans', Arial, sans-serif" font-size="11.3" font-weight="normal" text-anchor="start" fill="#1a1a1a">Chow Veh</text>
<line x1="26.90" y1="206.80" x2="41.60" y2="206.80" stroke="#000" stroke-width="1.0"/>
<circle cx="34.25" cy="206.80" r="2.0" fill="#fff" stroke="#000" stroke-width="1.15"/>
<text x="50.30" y="210.87" font-family="'Liberation Sans', Arial, sans-serif" font-size="11.3" font-weight="normal" text-anchor="start" fill="#1a1a1a">Veh</text>
<line x1="26.90" y1="226.00" x2="41.60" y2="226.00" stroke="#000" stroke-width="1.0" stroke-dasharray="1.9 2.1"/>
<circle cx="34.25" cy="226.00" r="2.0" fill="#fff" stroke="#000" stroke-width="1.15"/>
<text x="50.30" y="230.07" font-family="'Liberation Sans', Arial, sans-serif" font-size="11.3" font-weight="normal" text-anchor="start" fill="#1a1a1a">Veh <tspan letter-spacing="0.45">Wheel</tspan></text>
<line x1="131.50" y1="206.50" x2="147.20" y2="206.50" stroke="#000" stroke-width="1.0"/>
<circle cx="139.35" cy="206.50" r="2.0" fill="#3a3a3a" stroke="#000" stroke-width="1.15"/>
<text x="155.80" y="210.57" font-family="'Liberation Sans', Arial, sans-serif" font-size="11.3" font-weight="normal" text-anchor="start" fill="#1a1a1a">Comp A</text>
<line x1="131.50" y1="225.30" x2="147.20" y2="225.30" stroke="#000" stroke-width="1.0" stroke-dasharray="1.9 2.1"/>
<circle cx="139.35" cy="225.30" r="2.0" fill="#3a3a3a" stroke="#000" stroke-width="1.15"/>
<text x="155.80" y="229.37" font-family="'Liberation Sans', Arial, sans-serif" font-size="11.3" font-weight="normal" text-anchor="start" fill="#1a1a1a">Comp A <tspan letter-spacing="0.45">Wheel</tspan></text>
<line x1="36.60" y1="255.45" x2="36.60" y2="371.75" stroke="#000" stroke-width="1.45"/>
<line x1="33.00" y1="256.10" x2="36.60" y2="256.10" stroke="#000" stroke-width="1.45"/>
<line x1="33.00" y1="284.85" x2="36.60" y2="284.85" stroke="#000" stroke-width="1.45"/>
<line x1="33.00" y1="313.60" x2="36.60" y2="313.60" stroke="#000" stroke-width="1.45"/>
<line x1="33.00" y1="342.35" x2="36.60" y2="342.35" stroke="#000" stroke-width="1.45"/>
<line x1="33.00" y1="371.10" x2="36.60" y2="371.10" stroke="#000" stroke-width="1.45"/>
<text x="31.40" y="259.84" font-family="'Liberation Sans', Arial, sans-serif" font-size="10.4" font-weight="bold" text-anchor="end" fill="#000" stroke="#000" stroke-width="0.3">80</text>
<text x="31.40" y="288.59" font-family="'Liberation Sans', Arial, sans-serif" font-size="10.4" font-weight="bold" text-anchor="end" fill="#000" stroke="#000" stroke-width="0.3">60</text>
<text x="31.40" y="317.34" font-family="'Liberation Sans', Arial, sans-serif" font-size="10.4" font-weight="bold" text-anchor="end" fill="#000" stroke="#000" stroke-width="0.3">40</text>
<text x="31.40" y="346.09" font-family="'Liberation Sans', Arial, sans-serif" font-size="10.4" font-weight="bold" text-anchor="end" fill="#000" stroke="#000" stroke-width="0.3">20</text>
<text x="31.40" y="374.84" font-family="'Liberation Sans', Arial, sans-serif" font-size="10.4" font-weight="bold" text-anchor="end" fill="#000" stroke="#000" stroke-width="0.3">0</text>
<text transform="translate(6.80,311.20) rotate(-90)" x="0" y="4.07" font-family="'Liberation Sans', Arial, sans-serif" font-size="11.3" font-weight="bold" text-anchor="middle" stroke="#000" stroke-width="0.3">Food Intake (kJ/day)</text>
<line x1="49.95" y1="385.30" x2="231.29" y2="385.30" stroke="#000" stroke-width="1.45"/>
<line x1="50.60" y1="385.30" x2="50.60" y2="389.10" stroke="#000" stroke-width="1.45"/>
<line x1="76.32" y1="385.30" x2="76.32" y2="389.10" stroke="#000" stroke-width="1.45"/>
<line x1="102.04" y1="385.30" x2="102.04" y2="389.10" stroke="#000" stroke-width="1.45"/>
<line x1="127.76" y1="385.30" x2="127.76" y2="389.10" stroke="#000" stroke-width="1.45"/>
<line x1="153.48" y1="385.30" x2="153.48" y2="389.10" stroke="#000" stroke-width="1.45"/>
<line x1="179.20" y1="385.30" x2="179.20" y2="389.10" stroke="#000" stroke-width="1.45"/>
<line x1="204.92" y1="385.30" x2="204.92" y2="389.10" stroke="#000" stroke-width="1.45"/>
<line x1="230.64" y1="385.30" x2="230.64" y2="389.10" stroke="#000" stroke-width="1.45"/>
<text x="50.60" y="401.04" font-family="'Liberation Sans', Arial, sans-serif" font-size="10.4" font-weight="bold" text-anchor="middle" fill="#000" stroke="#000" stroke-width="0.3">0</text>
<text x="76.32" y="401.04" font-family="'Liberation Sans', Arial, sans-serif" font-size="10.4" font-weight="bold" text-anchor="middle" fill="#000" stroke="#000" stroke-width="0.3">2</text>
<text x="102.04" y="401.04" font-family="'Liberation Sans', Arial, sans-serif" font-size="10.4" font-weight="bold" text-anchor="middle" fill="#000" stroke="#000" stroke-width="0.3">4</text>
<text x="127.76" y="401.04" font-family="'Liberation Sans', Arial, sans-serif" font-size="10.4" font-weight="bold" text-anchor="middle" fill="#000" stroke="#000" stroke-width="0.3">6</text>
<text x="153.48" y="401.04" font-family="'Liberation Sans', Arial, sans-serif" font-size="10.4" font-weight="bold" text-anchor="middle" fill="#000" stroke="#000" stroke-width="0.3">8</text>
<text x="179.20" y="401.04" font-family="'Liberation Sans', Arial, sans-serif" font-size="10.4" font-weight="bold" text-anchor="middle" fill="#000" stroke="#000" stroke-width="0.3">10</text>
<text x="204.92" y="401.04" font-family="'Liberation Sans', Arial, sans-serif" font-size="10.4" font-weight="bold" text-anchor="middle" fill="#000" stroke="#000" stroke-width="0.3">12</text>
<text x="230.64" y="401.04" font-family="'Liberation Sans', Arial, sans-serif" font-size="10.4" font-weight="bold" text-anchor="middle" fill="#000" stroke="#000" stroke-width="0.3">14</text>
<text x="140.60" y="418.70" font-family="'Liberation Sans', Arial, sans-serif" font-size="11.3" font-weight="bold" text-anchor="middle" fill="#000" stroke="#000" stroke-width="0.3">Day</text>
<text x="40.8" y="265.1" font-family="'Liberation Serif', 'Times New Roman', serif" font-size="13" font-weight="bold" stroke="#000" stroke-width="0.35"><tspan font-family="'Liberation Sans', Arial, sans-serif" font-size="12.6">&#8225;</tspan>,&#952;,#</text>
<polyline points="50.60,279.90 63.46,356.90 76.32,344.60 89.18,332.30 102.04,325.00 114.90,320.30 127.76,314.90 140.62,305.10 153.48,315.40 166.34,307.70 179.20,320.00 192.06,308.60 204.92,310.80 217.78,312.30" fill="none" stroke="#000" stroke-width="1.25"/>
<polyline points="50.60,300.40 63.46,353.00 76.32,326.90 89.18,326.90 102.04,316.20 114.90,314.30 127.76,301.50 140.62,293.80 153.48,306.90 166.34,302.30 179.20,306.90 192.06,294.20 204.92,297.70 217.78,305.40" fill="none" stroke="#000" stroke-width="1.25" stroke-dasharray="1.9 2.1"/>
<polyline points="50.60,290.30 63.46,298.50 76.32,300.00 89.18,306.90 102.04,301.50 114.90,300.30 127.76,298.50 140.62,295.00 153.48,300.00 166.34,302.30 179.20,310.50 192.06,298.00 204.92,301.50 217.78,298.20" fill="none" stroke="#000" stroke-width="1.25"/>
<polyline points="50.60,301.70 63.46,297.00 76.32,297.00 89.18,297.40 102.04,289.20 114.90,289.20 127.76,289.70 140.62,283.10 153.48,283.50 166.34,283.50 179.20,290.50 192.06,294.00 204.92,288.50 217.78,286.90" fill="none" stroke="#000" stroke-width="1.25" stroke-dasharray="1.9 2.1"/>
<polyline points="50.60,310.50 63.46,284.90 76.32,289.30 89.18,297.00 102.04,291.50 114.90,291.50 127.76,293.10 140.62,286.90 153.48,288.50 166.34,285.40 179.20,301.50 192.06,295.40 204.92,290.00 217.78,289.20" fill="none" stroke="#000" stroke-width="1.25"/>
<line x1="50.60" y1="290.30" x2="50.60" y2="285.30" stroke="#000" stroke-width="1.2"/>
<line x1="48.80" y1="285.30" x2="52.40" y2="285.30" stroke="#000" stroke-width="1.2"/>
<rect x="48.41" y="288.12" width="4.37" height="4.37" fill="#fff" stroke="#000" stroke-width="1.15"/>
<rect x="61.27" y="296.31" width="4.37" height="4.37" fill="#fff" stroke="#000" stroke-width="1.15"/>
<rect x="74.13" y="297.81" width="4.37" height="4.37" fill="#fff" stroke="#000" stroke-width="1.15"/>
<rect x="87.00" y="304.71" width="4.37" height="4.37" fill="#fff" stroke="#000" stroke-width="1.15"/>
<rect x="99.85" y="299.31" width="4.37" height="4.37" fill="#fff" stroke="#000" stroke-width="1.15"/>
<rect x="112.72" y="298.12" width="4.37" height="4.37" fill="#fff" stroke="#000" stroke-width="1.15"/>
<rect x="125.57" y="296.31" width="4.37" height="4.37" fill="#fff" stroke="#000" stroke-width="1.15"/>
<line x1="140.62" y1="295.00" x2="140.62" y2="291.00" stroke="#000" stroke-width="1.2"/>
<line x1="138.82" y1="291.00" x2="142.42" y2="291.00" stroke="#000" stroke-width="1.2"/>
<rect x="138.44" y="292.81" width="4.37" height="4.37" fill="#fff" stroke="#000" stroke-width="1.15"/>
<rect x="151.29" y="297.81" width="4.37" height="4.37" fill="#fff" stroke="#000" stroke-width="1.15"/>
<rect x="164.16" y="300.12" width="4.37" height="4.37" fill="#fff" stroke="#000" stroke-width="1.15"/>
<rect x="177.01" y="308.31" width="4.37" height="4.37" fill="#fff" stroke="#000" stroke-width="1.15"/>
<line x1="192.06" y1="298.00" x2="192.06" y2="294.00" stroke="#000" stroke-width="1.2"/>
<line x1="190.26" y1="294.00" x2="193.86" y2="294.00" stroke="#000" stroke-width="1.2"/>
<rect x="189.87" y="295.81" width="4.37" height="4.37" fill="#fff" stroke="#000" stroke-width="1.15"/>
<rect x="202.73" y="299.31" width="4.37" height="4.37" fill="#fff" stroke="#000" stroke-width="1.15"/>
<rect x="215.59" y="296.01" width="4.37" height="4.37" fill="#fff" stroke="#000" stroke-width="1.15"/>
<line x1="50.60" y1="279.90" x2="50.60" y2="269.90" stroke="#000" stroke-width="1.2"/>
<line x1="48.80" y1="269.90" x2="52.40" y2="269.90" stroke="#000" stroke-width="1.2"/>
<circle cx="50.60" cy="279.90" r="2.3" fill="#3a3a3a" stroke="#000" stroke-width="1.15"/>
<circle cx="63.46" cy="356.90" r="2.3" fill="#3a3a3a" stroke="#000" stroke-width="1.15"/>
<line x1="76.32" y1="344.60" x2="76.32" y2="340.60" stroke="#000" stroke-width="1.2"/>
<line x1="74.52" y1="340.60" x2="78.12" y2="340.60" stroke="#000" stroke-width="1.2"/>
<circle cx="76.32" cy="344.60" r="2.3" fill="#3a3a3a" stroke="#000" stroke-width="1.15"/>
<circle cx="89.18" cy="332.30" r="2.3" fill="#3a3a3a" stroke="#000" stroke-width="1.15"/>
<circle cx="102.04" cy="325.00" r="2.3" fill="#3a3a3a" stroke="#000" stroke-width="1.15"/>
<circle cx="114.90" cy="320.30" r="2.3" fill="#3a3a3a" stroke="#000" stroke-width="1.15"/>
<circle cx="127.76" cy="314.90" r="2.3" fill="#3a3a3a" stroke="#000" stroke-width="1.15"/>
<circle cx="140.62" cy="305.10" r="2.3" fill="#3a3a3a" stroke="#000" stroke-width="1.15"/>
<circle cx="153.48" cy="315.40" r="2.3" fill="#3a3a3a" stroke="#000" stroke-width="1.15"/>
<circle cx="166.34" cy="307.70" r="2.3" fill="#3a3a3a" stroke="#000" stroke-width="1.15"/>
<circle cx="179.20" cy="320.00" r="2.3" fill="#3a3a3a" stroke="#000" stroke-width="1.15"/>
<circle cx="192.06" cy="308.60" r="2.3" fill="#3a3a3a" stroke="#000" stroke-width="1.15"/>
<circle cx="204.92" cy="310.80" r="2.3" fill="#3a3a3a" stroke="#000" stroke-width="1.15"/>
<circle cx="217.78" cy="312.30" r="2.3" fill="#3a3a3a" stroke="#000" stroke-width="1.15"/>
<circle cx="50.60" cy="300.40" r="2.3" fill="#3a3a3a" stroke="#000" stroke-width="1.15"/>
<circle cx="63.46" cy="353.00" r="2.3" fill="#3a3a3a" stroke="#000" stroke-width="1.15"/>
<line x1="76.32" y1="326.90" x2="76.32" y2="313.90" stroke="#000" stroke-width="1.2"/>
<line x1="74.52" y1="313.90" x2="78.12" y2="313.90" stroke="#000" stroke-width="1.2"/>
<circle cx="76.32" cy="326.90" r="2.3" fill="#3a3a3a" stroke="#000" stroke-width="1.15"/>
<circle cx="89.18" cy="326.90" r="2.3" fill="#3a3a3a" stroke="#000" stroke-width="1.15"/>
<circle cx="102.04" cy="316.20" r="2.3" fill="#3a3a3a" stroke="#000" stroke-width="1.15"/>
<circle cx="114.90" cy="314.30" r="2.3" fill="#3a3a3a" stroke="#000" stroke-width="1.15"/>
<circle cx="127.76" cy="301.50" r="2.3" fill="#3a3a3a" stroke="#000" stroke-width="1.15"/>
<line x1="140.62" y1="293.80" x2="140.62" y2="289.80" stroke="#000" stroke-width="1.2"/>
<line x1="138.82" y1="289.80" x2="142.42" y2="289.80" stroke="#000" stroke-width="1.2"/>
<circle cx="140.62" cy="293.80" r="2.3" fill="#3a3a3a" stroke="#000" stroke-width="1.15"/>
<circle cx="153.48" cy="306.90" r="2.3" fill="#3a3a3a" stroke="#000" stroke-width="1.15"/>
<circle cx="166.34" cy="302.30" r="2.3" fill="#3a3a3a" stroke="#000" stroke-width="1.15"/>
<circle cx="179.20" cy="306.90" r="2.3" fill="#3a3a3a" stroke="#000" stroke-width="1.15"/>
<circle cx="192.06" cy="294.20" r="2.3" fill="#3a3a3a" stroke="#000" stroke-width="1.15"/>
<circle cx="204.92" cy="297.70" r="2.3" fill="#3a3a3a" stroke="#000" stroke-width="1.15"/>
<circle cx="217.78" cy="305.40" r="2.3" fill="#3a3a3a" stroke="#000" stroke-width="1.15"/>
<circle cx="50.60" cy="301.70" r="2.3" fill="#fff" stroke="#000" stroke-width="1.15"/>
<circle cx="63.46" cy="297.00" r="2.3" fill="#fff" stroke="#000" stroke-width="1.15"/>
<circle cx="76.32" cy="297.00" r="2.3" fill="#fff" stroke="#000" stroke-width="1.15"/>
<circle cx="89.18" cy="297.40" r="2.3" fill="#fff" stroke="#000" stroke-width="1.15"/>
<line x1="102.04" y1="289.20" x2="102.04" y2="286.20" stroke="#000" stroke-width="1.2"/>
<line x1="100.24" y1="286.20" x2="103.84" y2="286.20" stroke="#000" stroke-width="1.2"/>
<circle cx="102.04" cy="289.20" r="2.3" fill="#fff" stroke="#000" stroke-width="1.15"/>
<line x1="114.90" y1="289.20" x2="114.90" y2="286.20" stroke="#000" stroke-width="1.2"/>
<line x1="113.10" y1="286.20" x2="116.70" y2="286.20" stroke="#000" stroke-width="1.2"/>
<circle cx="114.90" cy="289.20" r="2.3" fill="#fff" stroke="#000" stroke-width="1.15"/>
<line x1="127.76" y1="289.70" x2="127.76" y2="286.70" stroke="#000" stroke-width="1.2"/>
<line x1="125.96" y1="286.70" x2="129.56" y2="286.70" stroke="#000" stroke-width="1.2"/>
<circle cx="127.76" cy="289.70" r="2.3" fill="#fff" stroke="#000" stroke-width="1.15"/>
<line x1="140.62" y1="283.10" x2="140.62" y2="280.10" stroke="#000" stroke-width="1.2"/>
<line x1="138.82" y1="280.10" x2="142.42" y2="280.10" stroke="#000" stroke-width="1.2"/>
<circle cx="140.62" cy="283.10" r="2.3" fill="#fff" stroke="#000" stroke-width="1.15"/>
<line x1="153.48" y1="283.50" x2="153.48" y2="280.50" stroke="#000" stroke-width="1.2"/>
<line x1="151.68" y1="280.50" x2="155.28" y2="280.50" stroke="#000" stroke-width="1.2"/>
<circle cx="153.48" cy="283.50" r="2.3" fill="#fff" stroke="#000" stroke-width="1.15"/>
<line x1="166.34" y1="283.50" x2="166.34" y2="280.50" stroke="#000" stroke-width="1.2"/>
<line x1="164.54" y1="280.50" x2="168.14" y2="280.50" stroke="#000" stroke-width="1.2"/>
<circle cx="166.34" cy="283.50" r="2.3" fill="#fff" stroke="#000" stroke-width="1.15"/>
<line x1="179.20" y1="290.50" x2="179.20" y2="287.50" stroke="#000" stroke-width="1.2"/>
<line x1="177.40" y1="287.50" x2="181.00" y2="287.50" stroke="#000" stroke-width="1.2"/>
<circle cx="179.20" cy="290.50" r="2.3" fill="#fff" stroke="#000" stroke-width="1.15"/>
<line x1="192.06" y1="294.00" x2="192.06" y2="291.00" stroke="#000" stroke-width="1.2"/>
<line x1="190.26" y1="291.00" x2="193.86" y2="291.00" stroke="#000" stroke-width="1.2"/>
<circle cx="192.06" cy="294.00" r="2.3" fill="#fff" stroke="#000" stroke-width="1.15"/>
<line x1="204.92" y1="288.50" x2="204.92" y2="285.50" stroke="#000" stroke-width="1.2"/>
<line x1="203.12" y1="285.50" x2="206.72" y2="285.50" stroke="#000" stroke-width="1.2"/>
<circle cx="204.92" cy="288.50" r="2.3" fill="#fff" stroke="#000" stroke-width="1.15"/>
<line x1="217.78" y1="286.90" x2="217.78" y2="283.90" stroke="#000" stroke-width="1.2"/>
<line x1="215.98" y1="283.90" x2="219.58" y2="283.90" stroke="#000" stroke-width="1.2"/>
<circle cx="217.78" cy="286.90" r="2.3" fill="#fff" stroke="#000" stroke-width="1.15"/>
<circle cx="50.60" cy="310.50" r="2.3" fill="#fff" stroke="#000" stroke-width="1.15"/>
<line x1="63.46" y1="284.90" x2="63.46" y2="278.90" stroke="#000" stroke-width="1.2"/>
<line x1="61.66" y1="278.90" x2="65.26" y2="278.90" stroke="#000" stroke-width="1.2"/>
<circle cx="63.46" cy="284.90" r="2.3" fill="#fff" stroke="#000" stroke-width="1.15"/>
<line x1="76.32" y1="289.30" x2="76.32" y2="283.30" stroke="#000" stroke-width="1.2"/>
<line x1="74.52" y1="283.30" x2="78.12" y2="283.30" stroke="#000" stroke-width="1.2"/>
<circle cx="76.32" cy="289.30" r="2.3" fill="#fff" stroke="#000" stroke-width="1.15"/>
<line x1="89.18" y1="297.00" x2="89.18" y2="293.00" stroke="#000" stroke-width="1.2"/>
<line x1="87.38" y1="293.00" x2="90.98" y2="293.00" stroke="#000" stroke-width="1.2"/>
<circle cx="89.18" cy="297.00" r="2.3" fill="#fff" stroke="#000" stroke-width="1.15"/>
<line x1="102.04" y1="291.50" x2="102.04" y2="287.50" stroke="#000" stroke-width="1.2"/>
<line x1="100.24" y1="287.50" x2="103.84" y2="287.50" stroke="#000" stroke-width="1.2"/>
<circle cx="102.04" cy="291.50" r="2.3" fill="#fff" stroke="#000" stroke-width="1.15"/>
<circle cx="114.90" cy="291.50" r="2.3" fill="#fff" stroke="#000" stroke-width="1.15"/>
<circle cx="127.76" cy="293.10" r="2.3" fill="#fff" stroke="#000" stroke-width="1.15"/>
<circle cx="140.62" cy="286.90" r="2.3" fill="#fff" stroke="#000" stroke-width="1.15"/>
<circle cx="153.48" cy="288.50" r="2.3" fill="#fff" stroke="#000" stroke-width="1.15"/>
<circle cx="166.34" cy="285.40" r="2.3" fill="#fff" stroke="#000" stroke-width="1.15"/>
<circle cx="179.20" cy="301.50" r="2.3" fill="#fff" stroke="#000" stroke-width="1.15"/>
<circle cx="192.06" cy="295.40" r="2.3" fill="#fff" stroke="#000" stroke-width="1.15"/>
<circle cx="204.92" cy="290.00" r="2.3" fill="#fff" stroke="#000" stroke-width="1.15"/>
<circle cx="217.78" cy="289.20" r="2.3" fill="#fff" stroke="#000" stroke-width="1.15"/>
<text x="63.46" y="370.52" font-family="DejaVu Sans, sans-serif" font-size="8.6" text-anchor="middle">&#9733;</text>
<text x="63.46" y="378.85" font-family="'Liberation Sans', Arial, sans-serif" font-size="9.8" font-weight="bold" text-anchor="middle" stroke="#000" stroke-width="0.45">^</text>
<text x="76.32" y="364.12" font-family="DejaVu Sans, sans-serif" font-size="8.6" text-anchor="middle">&#9733;</text>
<text x="89.18" y="355.22" font-family="DejaVu Sans, sans-serif" font-size="8.6" text-anchor="middle">&#9733;</text>
<text x="89.18" y="365.65" font-family="'Liberation Sans', Arial, sans-serif" font-size="9.8" font-weight="bold" text-anchor="middle" stroke="#000" stroke-width="0.45">^</text>
<text x="102.04" y="346.32" font-family="DejaVu Sans, sans-serif" font-size="8.6" text-anchor="middle">&#9733;</text>
<text x="102.04" y="355.85" font-family="'Liberation Sans', Arial, sans-serif" font-size="9.8" font-weight="bold" text-anchor="middle" stroke="#000" stroke-width="0.45">^</text>
<text x="114.90" y="342.22" font-family="DejaVu Sans, sans-serif" font-size="8.6" text-anchor="middle">&#9733;</text>
<text x="114.90" y="353.15" font-family="'Liberation Sans', Arial, sans-serif" font-size="9.8" font-weight="bold" text-anchor="middle" stroke="#000" stroke-width="0.45">^</text>
<text x="127.76" y="337.02" font-family="DejaVu Sans, sans-serif" font-size="8.6" text-anchor="middle">&#9733;</text>
<text x="127.76" y="349.25" font-family="'Liberation Sans', Arial, sans-serif" font-size="9.8" font-weight="bold" text-anchor="middle" stroke="#000" stroke-width="0.45">^</text>
<text x="153.48" y="330.22" font-family="DejaVu Sans, sans-serif" font-size="8.6" text-anchor="middle">&#9733;</text>
<text x="153.48" y="339.85" font-family="'Liberation Sans', Arial, sans-serif" font-size="9.8" font-weight="bold" text-anchor="middle" stroke="#000" stroke-width="0.45">^</text>
<text x="166.34" y="329.02" font-family="DejaVu Sans, sans-serif" font-size="8.6" text-anchor="middle">&#9733;</text>
<text x="179.20" y="339.92" font-family="DejaVu Sans, sans-serif" font-size="8.6" text-anchor="middle">&#9733;</text>
<text x="179.20" y="349.65" font-family="'Liberation Sans', Arial, sans-serif" font-size="9.8" font-weight="bold" text-anchor="middle" stroke="#000" stroke-width="0.45">^</text>
<text x="204.92" y="330.32" font-family="DejaVu Sans, sans-serif" font-size="8.6" text-anchor="middle">&#9733;</text>
<text x="217.78" y="331.42" font-family="DejaVu Sans, sans-serif" font-size="8.6" text-anchor="middle">&#9733;</text>
<line x1="318.70" y1="255.90" x2="318.70" y2="349.40" stroke="#000" stroke-width="1.45"/>
<line x1="315.10" y1="256.55" x2="318.70" y2="256.55" stroke="#000" stroke-width="1.45"/>
<line x1="315.10" y1="279.90" x2="318.70" y2="279.90" stroke="#000" stroke-width="1.45"/>
<line x1="315.10" y1="303.25" x2="318.70" y2="303.25" stroke="#000" stroke-width="1.45"/>
<line x1="315.10" y1="326.60" x2="318.70" y2="326.60" stroke="#000" stroke-width="1.45"/>
<text x="313.50" y="260.29" font-family="'Liberation Sans', Arial, sans-serif" font-size="10.4" font-weight="bold" text-anchor="end" fill="#000" stroke="#000" stroke-width="0.3">0.05</text>
<text x="313.50" y="283.64" font-family="'Liberation Sans', Arial, sans-serif" font-size="10.4" font-weight="bold" text-anchor="end" fill="#000" stroke="#000" stroke-width="0.3">0.00</text>
<text x="313.50" y="306.99" font-family="'Liberation Sans', Arial, sans-serif" font-size="10.4" font-weight="bold" text-anchor="end" fill="#000" stroke="#000" stroke-width="0.3">-0.05</text>
<text x="313.50" y="330.34" font-family="'Liberation Sans', Arial, sans-serif" font-size="10.4" font-weight="bold" text-anchor="end" fill="#000" stroke="#000" stroke-width="0.3">-0.10</text>
<line x1="316.20" y1="347.70" x2="322.70" y2="354.20" stroke="#000" stroke-width="1.45"/>
<line x1="316.20" y1="357.30" x2="322.70" y2="363.50" stroke="#000" stroke-width="1.45"/>
<line x1="318.70" y1="360.50" x2="318.70" y2="371.40" stroke="#000" stroke-width="1.45"/>
<line x1="315.10" y1="362.30" x2="318.70" y2="362.30" stroke="#000" stroke-width="1.45"/>
<line x1="315.10" y1="368.80" x2="318.70" y2="368.80" stroke="#000" stroke-width="1.45"/>
<text x="313.50" y="364.64" font-family="'Liberation Sans', Arial, sans-serif" font-size="10.4" font-weight="bold" text-anchor="end" fill="#000" stroke="#000" stroke-width="0.3">-0.4</text>
<text x="313.50" y="373.54" font-family="'Liberation Sans', Arial, sans-serif" font-size="10.4" font-weight="bold" text-anchor="end" fill="#000" stroke="#000" stroke-width="0.3">-0.8</text>
<text transform="translate(264.80,314.60) rotate(-90)" x="0" y="3.85" font-family="'Liberation Sans', Arial, sans-serif" font-size="10.7" font-weight="bold" text-anchor="middle" stroke="#000" stroke-width="0.3">Feed efficiency</text>
<text transform="translate(278.40,314.00) rotate(-90)" x="0" y="4.07" font-family="'Liberation Sans', Arial, sans-serif" font-size="11.3" font-weight="bold" text-anchor="middle" stroke="#000" stroke-width="0.3"><tspan letter-spacing="0.45">(&#916;BW/kJ)</tspan></text>
<line x1="332.85" y1="385.40" x2="512.93" y2="385.40" stroke="#000" stroke-width="1.45"/>
<line x1="333.50" y1="385.40" x2="333.50" y2="389.20" stroke="#000" stroke-width="1.45"/>
<line x1="359.04" y1="385.40" x2="359.04" y2="389.20" stroke="#000" stroke-width="1.45"/>
<line x1="384.58" y1="385.40" x2="384.58" y2="389.20" stroke="#000" stroke-width="1.45"/>
<line x1="410.12" y1="385.40" x2="410.12" y2="389.20" stroke="#000" stroke-width="1.45"/>
<line x1="435.66" y1="385.40" x2="435.66" y2="389.20" stroke="#000" stroke-width="1.45"/>
<line x1="461.20" y1="385.40" x2="461.20" y2="389.20" stroke="#000" stroke-width="1.45"/>
<line x1="486.74" y1="385.40" x2="486.74" y2="389.20" stroke="#000" stroke-width="1.45"/>
<line x1="512.28" y1="385.40" x2="512.28" y2="389.20" stroke="#000" stroke-width="1.45"/>
<text x="333.50" y="401.04" font-family="'Liberation Sans', Arial, sans-serif" font-size="10.4" font-weight="bold" text-anchor="middle" fill="#000" stroke="#000" stroke-width="0.3">0</text>
<text x="359.04" y="401.04" font-family="'Liberation Sans', Arial, sans-serif" font-size="10.4" font-weight="bold" text-anchor="middle" fill="#000" stroke="#000" stroke-width="0.3">2</text>
<text x="384.58" y="401.04" font-family="'Liberation Sans', Arial, sans-serif" font-size="10.4" font-weight="bold" text-anchor="middle" fill="#000" stroke="#000" stroke-width="0.3">4</text>
<text x="410.12" y="401.04" font-family="'Liberation Sans', Arial, sans-serif" font-size="10.4" font-weight="bold" text-anchor="middle" fill="#000" stroke="#000" stroke-width="0.3">6</text>
<text x="435.66" y="401.04" font-family="'Liberation Sans', Arial, sans-serif" font-size="10.4" font-weight="bold" text-anchor="middle" fill="#000" stroke="#000" stroke-width="0.3">8</text>
<text x="461.20" y="401.04" font-family="'Liberation Sans', Arial, sans-serif" font-size="10.4" font-weight="bold" text-anchor="middle" fill="#000" stroke="#000" stroke-width="0.3">10</text>
<text x="486.74" y="401.04" font-family="'Liberation Sans', Arial, sans-serif" font-size="10.4" font-weight="bold" text-anchor="middle" fill="#000" stroke="#000" stroke-width="0.3">12</text>
<text x="512.28" y="401.04" font-family="'Liberation Sans', Arial, sans-serif" font-size="10.4" font-weight="bold" text-anchor="middle" fill="#000" stroke="#000" stroke-width="0.3">14</text>
<text x="423.20" y="418.70" font-family="'Liberation Sans', Arial, sans-serif" font-size="11.3" font-weight="bold" text-anchor="middle" fill="#000" stroke="#000" stroke-width="0.3">Day</text>
<text x="323.8" y="265.2" font-family="'Liberation Serif', 'Times New Roman', serif" font-size="13" font-weight="bold" stroke="#000" stroke-width="0.35"><tspan font-family="'Liberation Sans', Arial, sans-serif" font-size="12.6">&#8225;</tspan>,&#952;,#</text>
<line x1="320.20" y1="279.90" x2="510.80" y2="279.90" stroke="#000" stroke-width="1.2" stroke-dasharray="1.4 2.6"/>
<polyline points="346.27,300.00 359.04,333.80 371.81,313.80 384.58,298.00 397.35,288.80 410.12,286.50 422.89,284.50 435.66,284.20 448.43,285.00 461.20,284.50 473.97,280.00 486.74,293.50 499.51,284.20" fill="none" stroke="#000" stroke-width="1.25"/>
<polyline points="359.04,310.00 371.81,294.00 384.58,287.30 397.35,286.50 410.12,285.00 422.89,284.20 435.66,284.00 448.43,284.20 461.20,284.20 473.97,279.00 486.74,293.00 499.51,284.00" fill="none" stroke="#000" stroke-width="1.25" stroke-dasharray="1.9 2.1"/>
<line x1="349.90" y1="349.00" x2="359.04" y2="310.00" stroke="#000" stroke-width="1.25" stroke-dasharray="1.9 2.1"/>
<polyline points="346.27,318.70 359.04,283.20 371.81,283.00 384.58,281.50 397.35,281.00 410.12,281.00 422.89,281.00 435.66,281.00 448.43,280.00 461.20,281.00 473.97,279.00 486.74,289.00 499.51,280.00" fill="none" stroke="#000" stroke-width="1.25" stroke-dasharray="1.9 2.1"/>
<polyline points="346.27,286.50 359.04,282.00 371.81,278.30 384.58,281.00 397.35,279.60 410.12,277.30 422.89,279.00 435.66,277.30 448.43,278.00 461.20,279.60 473.97,273.50 486.74,290.00 499.51,280.00" fill="none" stroke="#000" stroke-width="1.25"/>
<polyline points="346.27,279.20 359.04,280.00 371.81,279.50 384.58,281.20 397.35,279.60 410.12,280.40 422.89,280.40 435.66,280.40 448.43,278.00 461.20,279.60 473.97,278.00 486.74,288.80 499.51,279.20" fill="none" stroke="#000" stroke-width="1.25"/>
<line x1="346.27" y1="300.00" x2="346.27" y2="286.00" stroke="#000" stroke-width="1.2"/>
<line x1="344.47" y1="286.00" x2="348.07" y2="286.00" stroke="#000" stroke-width="1.2"/>
<circle cx="346.27" cy="300.00" r="2.3" fill="#3a3a3a" stroke="#000" stroke-width="1.15"/>
<line x1="359.04" y1="333.80" x2="359.04" y2="324.80" stroke="#000" stroke-width="1.2"/>
<line x1="357.24" y1="324.80" x2="360.84" y2="324.80" stroke="#000" stroke-width="1.2"/>
<circle cx="359.04" cy="333.80" r="2.3" fill="#3a3a3a" stroke="#000" stroke-width="1.15"/>
<line x1="371.81" y1="313.80" x2="371.81" y2="293.80" stroke="#000" stroke-width="1.2"/>
<line x1="370.01" y1="293.80" x2="373.61" y2="293.80" stroke="#000" stroke-width="1.2"/>
<circle cx="371.81" cy="313.80" r="2.3" fill="#3a3a3a" stroke="#000" stroke-width="1.15"/>
<line x1="384.58" y1="298.00" x2="384.58" y2="292.00" stroke="#000" stroke-width="1.2"/>
<line x1="382.78" y1="292.00" x2="386.38" y2="292.00" stroke="#000" stroke-width="1.2"/>
<circle cx="384.58" cy="298.00" r="2.3" fill="#3a3a3a" stroke="#000" stroke-width="1.15"/>
<circle cx="397.35" cy="288.80" r="2.3" fill="#3a3a3a" stroke="#000" stroke-width="1.15"/>
<circle cx="410.12" cy="286.50" r="2.3" fill="#3a3a3a" stroke="#000" stroke-width="1.15"/>
<circle cx="422.89" cy="284.50" r="2.3" fill="#3a3a3a" stroke="#000" stroke-width="1.15"/>
<circle cx="435.66" cy="284.20" r="2.3" fill="#3a3a3a" stroke="#000" stroke-width="1.15"/>
<circle cx="448.43" cy="285.00" r="2.3" fill="#3a3a3a" stroke="#000" stroke-width="1.15"/>
<circle cx="461.20" cy="284.50" r="2.3" fill="#3a3a3a" stroke="#000" stroke-width="1.15"/>
<circle cx="473.97" cy="280.00" r="2.3" fill="#3a3a3a" stroke="#000" stroke-width="1.15"/>
<circle cx="486.74" cy="293.50" r="2.3" fill="#3a3a3a" stroke="#000" stroke-width="1.15"/>
<circle cx="499.51" cy="284.20" r="2.3" fill="#3a3a3a" stroke="#000" stroke-width="1.15"/>
<line x1="359.04" y1="310.00" x2="359.04" y2="304.00" stroke="#000" stroke-width="1.2"/>
<line x1="357.24" y1="304.00" x2="360.84" y2="304.00" stroke="#000" stroke-width="1.2"/>
<circle cx="359.04" cy="310.00" r="2.3" fill="#3a3a3a" stroke="#000" stroke-width="1.15"/>
<circle cx="371.81" cy="294.00" r="2.3" fill="#3a3a3a" stroke="#000" stroke-width="1.15"/>
<circle cx="384.58" cy="287.30" r="2.3" fill="#3a3a3a" stroke="#000" stroke-width="1.15"/>
<circle cx="397.35" cy="286.50" r="2.3" fill="#3a3a3a" stroke="#000" stroke-width="1.15"/>
<circle cx="410.12" cy="285.00" r="2.3" fill="#3a3a3a" stroke="#000" stroke-width="1.15"/>
<circle cx="422.89" cy="284.20" r="2.3" fill="#3a3a3a" stroke="#000" stroke-width="1.15"/>
<circle cx="435.66" cy="284.00" r="2.3" fill="#3a3a3a" stroke="#000" stroke-width="1.15"/>
<circle cx="448.43" cy="284.20" r="2.3" fill="#3a3a3a" stroke="#000" stroke-width="1.15"/>
<circle cx="461.20" cy="284.20" r="2.3" fill="#3a3a3a" stroke="#000" stroke-width="1.15"/>
<circle cx="473.97" cy="279.00" r="2.3" fill="#3a3a3a" stroke="#000" stroke-width="1.15"/>
<circle cx="486.74" cy="293.00" r="2.3" fill="#3a3a3a" stroke="#000" stroke-width="1.15"/>
<circle cx="499.51" cy="284.00" r="2.3" fill="#3a3a3a" stroke="#000" stroke-width="1.15"/>
<line x1="346.27" y1="364.20" x2="346.27" y2="361.40" stroke="#000" stroke-width="1.0"/>
<line x1="344.97" y1="361.40" x2="347.57" y2="361.40" stroke="#000" stroke-width="1.1"/>
<circle cx="345.97" cy="364.40" r="1.75" fill="#3a3a3a" stroke="#000" stroke-width="1.15"/>
<line x1="346.27" y1="318.70" x2="346.27" y2="312.70" stroke="#000" stroke-width="1.2"/>
<line x1="344.47" y1="312.70" x2="348.07" y2="312.70" stroke="#000" stroke-width="1.2"/>
<circle cx="346.27" cy="318.70" r="2.3" fill="#fff" stroke="#000" stroke-width="1.15"/>
<circle cx="359.04" cy="283.20" r="2.3" fill="#fff" stroke="#000" stroke-width="1.15"/>
<circle cx="371.81" cy="283.00" r="2.3" fill="#fff" stroke="#000" stroke-width="1.15"/>
<circle cx="384.58" cy="281.50" r="2.3" fill="#fff" stroke="#000" stroke-width="1.15"/>
<circle cx="397.35" cy="281.00" r="2.3" fill="#fff" stroke="#000" stroke-width="1.15"/>
<circle cx="410.12" cy="281.00" r="2.3" fill="#fff" stroke="#000" stroke-width="1.15"/>
<circle cx="422.89" cy="281.00" r="2.3" fill="#fff" stroke="#000" stroke-width="1.15"/>
<circle cx="435.66" cy="281.00" r="2.3" fill="#fff" stroke="#000" stroke-width="1.15"/>
<circle cx="448.43" cy="280.00" r="2.3" fill="#fff" stroke="#000" stroke-width="1.15"/>
<circle cx="461.20" cy="281.00" r="2.3" fill="#fff" stroke="#000" stroke-width="1.15"/>
<circle cx="473.97" cy="279.00" r="2.3" fill="#fff" stroke="#000" stroke-width="1.15"/>
<circle cx="486.74" cy="289.00" r="2.3" fill="#fff" stroke="#000" stroke-width="1.15"/>
<circle cx="499.51" cy="280.00" r="2.3" fill="#fff" stroke="#000" stroke-width="1.15"/>
<rect x="344.08" y="284.31" width="4.37" height="4.37" fill="#fff" stroke="#000" stroke-width="1.15"/>
<rect x="356.86" y="279.81" width="4.37" height="4.37" fill="#fff" stroke="#000" stroke-width="1.15"/>
<line x1="371.81" y1="278.30" x2="371.81" y2="275.30" stroke="#000" stroke-width="1.2"/>
<line x1="370.01" y1="275.30" x2="373.61" y2="275.30" stroke="#000" stroke-width="1.2"/>
<rect x="369.62" y="276.12" width="4.37" height="4.37" fill="#fff" stroke="#000" stroke-width="1.15"/>
<rect x="382.39" y="278.81" width="4.37" height="4.37" fill="#fff" stroke="#000" stroke-width="1.15"/>
<rect x="395.17" y="277.42" width="4.37" height="4.37" fill="#fff" stroke="#000" stroke-width="1.15"/>
<rect x="407.94" y="275.12" width="4.37" height="4.37" fill="#fff" stroke="#000" stroke-width="1.15"/>
<rect x="420.70" y="276.81" width="4.37" height="4.37" fill="#fff" stroke="#000" stroke-width="1.15"/>
<rect x="433.47" y="275.12" width="4.37" height="4.37" fill="#fff" stroke="#000" stroke-width="1.15"/>
<rect x="446.25" y="275.81" width="4.37" height="4.37" fill="#fff" stroke="#000" stroke-width="1.15"/>
<rect x="459.01" y="277.42" width="4.37" height="4.37" fill="#fff" stroke="#000" stroke-width="1.15"/>
<line x1="473.97" y1="273.50" x2="473.97" y2="270.50" stroke="#000" stroke-width="1.2"/>
<line x1="472.17" y1="270.50" x2="475.77" y2="270.50" stroke="#000" stroke-width="1.2"/>
<rect x="471.79" y="271.31" width="4.37" height="4.37" fill="#fff" stroke="#000" stroke-width="1.15"/>
<rect x="484.56" y="287.81" width="4.37" height="4.37" fill="#fff" stroke="#000" stroke-width="1.15"/>
<rect x="497.32" y="277.81" width="4.37" height="4.37" fill="#fff" stroke="#000" stroke-width="1.15"/>
<circle cx="346.27" cy="279.20" r="2.3" fill="#fff" stroke="#000" stroke-width="1.15"/>
<circle cx="359.04" cy="280.00" r="2.3" fill="#fff" stroke="#000" stroke-width="1.15"/>
<circle cx="371.81" cy="279.50" r="2.3" fill="#fff" stroke="#000" stroke-width="1.15"/>
<circle cx="384.58" cy="281.20" r="2.3" fill="#fff" stroke="#000" stroke-width="1.15"/>
<circle cx="397.35" cy="279.60" r="2.3" fill="#fff" stroke="#000" stroke-width="1.15"/>
<circle cx="410.12" cy="280.40" r="2.3" fill="#fff" stroke="#000" stroke-width="1.15"/>
<circle cx="422.89" cy="280.40" r="2.3" fill="#fff" stroke="#000" stroke-width="1.15"/>
<circle cx="435.66" cy="280.40" r="2.3" fill="#fff" stroke="#000" stroke-width="1.15"/>
<circle cx="448.43" cy="278.00" r="2.3" fill="#fff" stroke="#000" stroke-width="1.15"/>
<circle cx="461.20" cy="279.60" r="2.3" fill="#fff" stroke="#000" stroke-width="1.15"/>
<circle cx="473.97" cy="278.00" r="2.3" fill="#fff" stroke="#000" stroke-width="1.15"/>
<circle cx="486.74" cy="288.80" r="2.3" fill="#fff" stroke="#000" stroke-width="1.15"/>
<circle cx="499.51" cy="279.20" r="2.3" fill="#fff" stroke="#000" stroke-width="1.15"/>
<text x="346.27" y="375.92" font-family="DejaVu Sans, sans-serif" font-size="8.6" text-anchor="middle">&#9733;</text>
<text x="346.27" y="383.65" font-family="'Liberation Sans', Arial, sans-serif" font-size="9.8" font-weight="bold" text-anchor="middle" stroke="#000" stroke-width="0.45">^</text>
<text x="359.04" y="351.35" font-family="'Liberation Sans', Arial, sans-serif" font-size="9.8" font-weight="bold" text-anchor="middle" stroke="#000" stroke-width="0.45">^</text>
<text x="371.81" y="330.85" font-family="'Liberation Sans', Arial, sans-serif" font-size="9.8" font-weight="bold" text-anchor="middle" stroke="#000" stroke-width="0.45">^</text>
<text x="384.58" y="311.85" font-family="'Liberation Sans', Arial, sans-serif" font-size="9.8" font-weight="bold" text-anchor="middle" stroke="#000" stroke-width="0.45">^</text>
<text x="448.43" y="304.42" font-family="DejaVu Sans, sans-serif" font-size="8.6" text-anchor="middle">&#9733;</text>
<text x="448.43" y="315.05" font-family="'Liberation Sans', Arial, sans-serif" font-size="9.8" font-weight="bold" text-anchor="middle" stroke="#000" stroke-width="0.45">^</text>
<text x="461.20" y="300.22" font-family="DejaVu Sans, sans-serif" font-size="8.6" text-anchor="middle">&#9733;</text>
<text x="473.97" y="297.35" font-family="'Liberation Sans', Arial, sans-serif" font-size="9.8" font-weight="bold" text-anchor="middle" stroke="#000" stroke-width="0.45">^</text>
<text x="499.51" y="301.72" font-family="DejaVu Sans, sans-serif" font-size="8.6" text-anchor="middle">&#9733;</text>
<line x1="36.30" y1="454.68" x2="36.30" y2="596.05" stroke="#000" stroke-width="1.45"/>
<line x1="32.70" y1="455.32" x2="36.30" y2="455.32" stroke="#000" stroke-width="1.45"/>
<line x1="32.70" y1="483.34" x2="36.30" y2="483.34" stroke="#000" stroke-width="1.45"/>
<line x1="32.70" y1="511.35" x2="36.30" y2="511.35" stroke="#000" stroke-width="1.45"/>
<line x1="32.70" y1="539.37" x2="36.30" y2="539.37" stroke="#000" stroke-width="1.45"/>
<line x1="32.70" y1="567.38" x2="36.30" y2="567.38" stroke="#000" stroke-width="1.45"/>
<line x1="32.70" y1="595.40" x2="36.30" y2="595.40" stroke="#000" stroke-width="1.45"/>
<text x="31.10" y="459.07" font-family="'Liberation Sans', Arial, sans-serif" font-size="10.4" font-weight="bold" text-anchor="end" fill="#000" stroke="#000" stroke-width="0.3">25</text>
<text x="31.10" y="487.08" font-family="'Liberation Sans', Arial, sans-serif" font-size="10.4" font-weight="bold" text-anchor="end" fill="#000" stroke="#000" stroke-width="0.3">20</text>
<text x="31.10" y="515.10" font-family="'Liberation Sans', Arial, sans-serif" font-size="10.4" font-weight="bold" text-anchor="end" fill="#000" stroke="#000" stroke-width="0.3">15</text>
<text x="31.10" y="543.11" font-family="'Liberation Sans', Arial, sans-serif" font-size="10.4" font-weight="bold" text-anchor="end" fill="#000" stroke="#000" stroke-width="0.3">10</text>
<text x="31.10" y="571.13" font-family="'Liberation Sans', Arial, sans-serif" font-size="10.4" font-weight="bold" text-anchor="end" fill="#000" stroke="#000" stroke-width="0.3">5</text>
<text x="31.10" y="599.14" font-family="'Liberation Sans', Arial, sans-serif" font-size="10.4" font-weight="bold" text-anchor="end" fill="#000" stroke="#000" stroke-width="0.3">0</text>
<text transform="translate(8.90,524.60) rotate(-90)" x="0" y="4.14" font-family="'Liberation Sans', Arial, sans-serif" font-size="11.5" font-weight="bold" text-anchor="middle" stroke="#000" stroke-width="0.3">Fat mass (g)</text>
<text x="40.2" y="462.8" font-family="'Liberation Sans', Arial, sans-serif" font-size="12.6" font-weight="bold" stroke="#000" stroke-width="0.3">&#8225;<tspan font-family="'Liberation Serif', 'Times New Roman', serif">,</tspan>&#8224;</text>
<line x1="36.30" y1="595.40" x2="173.20" y2="595.40" stroke="#000" stroke-width="1.45"/>
<line x1="74.20" y1="595.40" x2="74.20" y2="599.40" stroke="#000" stroke-width="1.45"/>
<line x1="139.90" y1="595.40" x2="139.90" y2="599.40" stroke="#000" stroke-width="1.45"/>
<text x="74.00" y="611.00" font-family="'Liberation Sans', Arial, sans-serif" font-size="10.8" font-weight="bold" text-anchor="middle" fill="#000" stroke="#000" stroke-width="0.3">Veh</text>
<text x="139.60" y="611.00" font-family="'Liberation Sans', Arial, sans-serif" font-size="10.8" font-weight="bold" text-anchor="middle" fill="#000" stroke="#000" stroke-width="0.3">Comp A</text>
<line x1="37.30" y1="573.20" x2="174.60" y2="573.20" stroke="#222" stroke-width="1.0" stroke-dasharray="1.8 2.1"/>
<line x1="61.50" y1="490.60" x2="61.50" y2="484.50" stroke="#000" stroke-width="1.3"/>
<line x1="58.50" y1="484.50" x2="64.50" y2="484.50" stroke="#000" stroke-width="1.3"/>
<rect x="50.00" y="490.60" width="23.00" height="104.80" fill="#fff" stroke="#000" stroke-width="1.3"/>
<line x1="88.55" y1="509.20" x2="88.55" y2="503.40" stroke="#000" stroke-width="1.3"/>
<line x1="85.55" y1="503.40" x2="91.55" y2="503.40" stroke="#000" stroke-width="1.3"/>
<rect x="76.60" y="509.20" width="23.90" height="86.20" fill="#000" stroke="#000" stroke-width="1.3"/>
<line x1="127.00" y1="526.90" x2="127.00" y2="522.30" stroke="#000" stroke-width="1.3"/>
<line x1="124.00" y1="522.30" x2="130.00" y2="522.30" stroke="#000" stroke-width="1.3"/>
<rect x="116.00" y="526.90" width="22.00" height="68.50" fill="#fff" stroke="#000" stroke-width="1.3"/>
<line x1="153.80" y1="537.40" x2="153.80" y2="529.00" stroke="#000" stroke-width="1.3"/>
<line x1="150.80" y1="529.00" x2="156.80" y2="529.00" stroke="#000" stroke-width="1.3"/>
<rect x="142.30" y="537.40" width="23.00" height="58.00" fill="#000" stroke="#000" stroke-width="1.3"/>
<line x1="37.30" y1="573.20" x2="174.60" y2="573.20" stroke="#222" stroke-width="1.0" stroke-dasharray="1.8 2.1"/>
<rect x="85.8" y="494.0" width="4.2" height="4.2" fill="#fff" stroke="#000" stroke-width="1.3"/>
<text x="127.45" y="517.09" font-family="DejaVu Sans, sans-serif" font-size="8.8" text-anchor="middle">&#9733;</text>
<text x="154.25" y="520.29" font-family="DejaVu Sans, sans-serif" font-size="8.8" text-anchor="middle">&#9733;</text>
<rect x="121.7" y="460.1" width="8.6" height="8.6" fill="#fff" stroke="#000" stroke-width="1.4"/>
<rect x="121.1" y="476.5" width="9.7" height="9.2" fill="#000"/>
<text x="142.00" y="468.60" font-family="'Liberation Sans', Arial, sans-serif" font-size="13" font-weight="normal" text-anchor="start" fill="#1a1a1a">Sed</text>
<text x="142.00" y="485.00" font-family="'Liberation Sans', Arial, sans-serif" font-size="13" font-weight="normal" text-anchor="start" fill="#1a1a1a"><tspan letter-spacing="0.4">Wheel</tspan></text>
<line x1="318.90" y1="454.50" x2="318.90" y2="596.05" stroke="#000" stroke-width="1.45"/>
<line x1="315.30" y1="455.15" x2="318.90" y2="455.15" stroke="#000" stroke-width="1.45"/>
<line x1="315.30" y1="483.20" x2="318.90" y2="483.20" stroke="#000" stroke-width="1.45"/>
<line x1="315.30" y1="511.25" x2="318.90" y2="511.25" stroke="#000" stroke-width="1.45"/>
<line x1="315.30" y1="539.30" x2="318.90" y2="539.30" stroke="#000" stroke-width="1.45"/>
<line x1="315.30" y1="567.35" x2="318.90" y2="567.35" stroke="#000" stroke-width="1.45"/>
<line x1="315.30" y1="595.40" x2="318.90" y2="595.40" stroke="#000" stroke-width="1.45"/>
<text x="313.70" y="458.89" font-family="'Liberation Sans', Arial, sans-serif" font-size="10.4" font-weight="bold" text-anchor="end" fill="#000" stroke="#000" stroke-width="0.3">100</text>
<text x="313.70" y="486.94" font-family="'Liberation Sans', Arial, sans-serif" font-size="10.4" font-weight="bold" text-anchor="end" fill="#000" stroke="#000" stroke-width="0.3">80</text>
<text x="313.70" y="514.99" font-family="'Liberation Sans', Arial, sans-serif" font-size="10.4" font-weight="bold" text-anchor="end" fill="#000" stroke="#000" stroke-width="0.3">60</text>
<text x="313.70" y="543.04" font-family="'Liberation Sans', Arial, sans-serif" font-size="10.4" font-weight="bold" text-anchor="end" fill="#000" stroke="#000" stroke-width="0.3">40</text>
<text x="313.70" y="571.09" font-family="'Liberation Sans', Arial, sans-serif" font-size="10.4" font-weight="bold" text-anchor="end" fill="#000" stroke="#000" stroke-width="0.3">20</text>
<text x="313.70" y="599.14" font-family="'Liberation Sans', Arial, sans-serif" font-size="10.4" font-weight="bold" text-anchor="end" fill="#000" stroke="#000" stroke-width="0.3">0</text>
<text transform="translate(279.00,525.90) rotate(-90)" x="0" y="3.85" font-family="'Liberation Sans', Arial, sans-serif" font-size="10.7" font-weight="bold" text-anchor="middle" stroke="#000" stroke-width="0.3">TA TAG (mmol/L/mg muscle)</text>
<text x="322.6" y="462.9" font-family="'Liberation Sans', Arial, sans-serif" font-size="12.6" font-weight="bold" stroke="#000" stroke-width="0.3">&#8225;</text>
<line x1="318.90" y1="595.40" x2="461.00" y2="595.40" stroke="#000" stroke-width="1.45"/>
<line x1="356.90" y1="595.40" x2="356.90" y2="599.40" stroke="#000" stroke-width="1.45"/>
<line x1="422.50" y1="595.40" x2="422.50" y2="599.40" stroke="#000" stroke-width="1.45"/>
<text x="356.40" y="611.00" font-family="'Liberation Sans', Arial, sans-serif" font-size="10.6" font-weight="bold" text-anchor="middle" fill="#000" stroke="#000" stroke-width="0.3">Veh</text>
<text x="422.30" y="611.00" font-family="'Liberation Sans', Arial, sans-serif" font-size="10.6" font-weight="bold" text-anchor="middle" fill="#000" stroke="#000" stroke-width="0.3">Comp A</text>
<line x1="319.90" y1="568.10" x2="459.20" y2="568.10" stroke="#222" stroke-width="1.0" stroke-dasharray="1.8 2.1"/>
<line x1="343.85" y1="510.00" x2="343.85" y2="489.70" stroke="#000" stroke-width="1.3"/>
<line x1="340.85" y1="489.70" x2="346.85" y2="489.70" stroke="#000" stroke-width="1.3"/>
<rect x="332.40" y="510.00" width="22.90" height="85.40" fill="#fff" stroke="#000" stroke-width="1.3"/>
<line x1="370.35" y1="532.30" x2="370.35" y2="517.50" stroke="#000" stroke-width="1.3"/>
<line x1="367.35" y1="517.50" x2="373.35" y2="517.50" stroke="#000" stroke-width="1.3"/>
<rect x="358.60" y="532.30" width="23.50" height="63.10" fill="#000" stroke="#000" stroke-width="1.3"/>
<line x1="409.00" y1="572.20" x2="409.00" y2="560.80" stroke="#000" stroke-width="1.3"/>
<line x1="406.00" y1="560.80" x2="412.00" y2="560.80" stroke="#000" stroke-width="1.3"/>
<rect x="398.00" y="572.20" width="22.00" height="23.20" fill="#fff" stroke="#000" stroke-width="1.3"/>
<line x1="435.70" y1="559.10" x2="435.70" y2="549.20" stroke="#000" stroke-width="1.3"/>
<line x1="432.70" y1="549.20" x2="438.70" y2="549.20" stroke="#000" stroke-width="1.3"/>
<rect x="424.10" y="559.10" width="23.20" height="36.30" fill="#000" stroke="#000" stroke-width="1.3"/>
<line x1="319.90" y1="568.10" x2="459.20" y2="568.10" stroke="#222" stroke-width="1.0" stroke-dasharray="1.8 2.1"/>
<text x="409.10" y="553.14" font-family="DejaVu Sans, sans-serif" font-size="8.4" text-anchor="middle">&#9733;</text>
</svg></body></html>
